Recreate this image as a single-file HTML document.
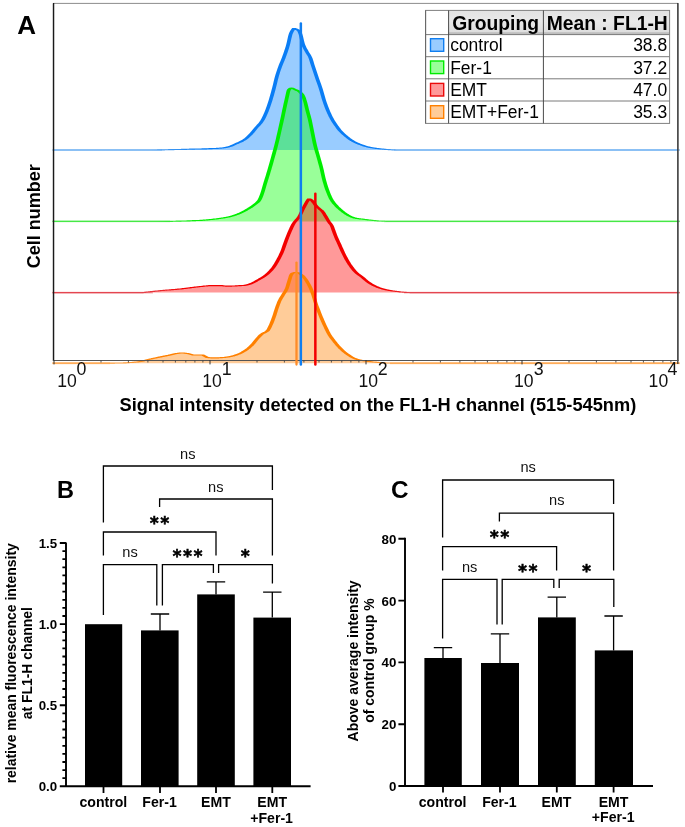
<!DOCTYPE html>
<html lang="en"><head><meta charset="utf-8"><title>Figure</title>
<style>html,body{margin:0;padding:0;background:#fff}svg{display:block}</style></head>
<body>
<svg width="685" height="827" viewBox="0 0 685 827" font-family="'Liberation Sans', sans-serif">
<rect width="685" height="827" fill="#fff"/>
<g id="panelA">
<path d="M152.0,150.0 L152.0,150.0 L152.5,150.0 L153.0,150.0 L153.5,150.0 L154.0,150.0 L154.5,150.0 L155.0,150.0 L155.5,149.9 L156.0,149.9 L156.5,149.9 L157.0,149.9 L157.5,149.9 L158.0,149.9 L158.5,149.9 L159.0,149.9 L159.5,149.9 L160.0,149.9 L160.5,149.9 L161.0,149.9 L161.5,149.8 L162.0,149.8 L162.5,149.8 L163.0,149.8 L163.5,149.8 L164.0,149.8 L164.5,149.8 L165.0,149.8 L165.5,149.8 L166.0,149.8 L166.5,149.7 L167.0,149.7 L167.5,149.7 L168.0,149.7 L168.5,149.7 L169.0,149.7 L169.5,149.7 L170.0,149.7 L170.5,149.7 L171.0,149.7 L171.5,149.6 L172.0,149.6 L172.5,149.6 L173.0,149.6 L173.5,149.6 L174.0,149.6 L174.5,149.6 L175.0,149.6 L175.5,149.6 L176.0,149.5 L176.5,149.5 L177.0,149.5 L177.5,149.5 L178.0,149.5 L178.5,149.5 L179.0,149.5 L179.5,149.5 L180.0,149.5 L180.5,149.4 L181.0,149.4 L181.5,149.4 L182.0,149.4 L182.5,149.4 L183.0,149.4 L183.5,149.4 L184.0,149.4 L184.5,149.3 L185.0,149.3 L185.5,149.3 L186.0,149.3 L186.5,149.3 L187.0,149.3 L187.5,149.3 L188.0,149.3 L188.5,149.2 L189.0,149.2 L189.5,149.2 L190.0,149.2 L190.5,149.2 L191.0,149.2 L191.5,149.2 L192.0,149.1 L192.5,149.1 L193.0,149.1 L193.5,149.1 L194.0,149.1 L194.5,149.1 L195.0,149.1 L195.5,149.1 L196.0,149.1 L196.5,149.0 L197.0,149.0 L197.5,149.0 L198.0,149.0 L198.5,149.0 L199.0,149.0 L199.5,149.0 L200.0,149.0 L200.5,149.0 L201.0,148.9 L201.5,148.9 L202.0,148.9 L202.5,148.9 L203.0,148.9 L203.5,148.9 L204.0,148.9 L204.5,148.8 L205.0,148.8 L205.5,148.8 L206.0,148.8 L206.5,148.8 L207.0,148.8 L207.5,148.8 L208.0,148.7 L208.5,148.7 L209.0,148.7 L209.5,148.7 L210.0,148.7 L210.5,148.7 L211.0,148.6 L211.5,148.6 L212.0,148.6 L212.5,148.6 L213.0,148.6 L213.5,148.5 L214.0,148.5 L214.5,148.5 L215.0,148.5 L215.5,148.4 L216.0,148.4 L216.5,148.4 L217.0,148.4 L217.5,148.3 L218.0,148.3 L218.5,148.3 L219.0,148.3 L219.5,148.2 L220.0,148.2 L220.5,148.2 L221.0,148.1 L221.5,148.1 L222.0,148.0 L222.5,148.0 L223.0,147.9 L223.5,147.8 L224.0,147.8 L224.5,147.7 L225.0,147.6 L225.5,147.5 L226.0,147.4 L226.5,147.3 L227.0,147.2 L227.5,147.1 L228.0,147.0 L228.5,146.9 L229.0,146.7 L229.5,146.6 L230.0,146.4 L230.5,146.2 L231.0,146.0 L231.5,145.8 L232.0,145.6 L232.5,145.4 L233.0,145.2 L233.5,144.9 L234.0,144.7 L234.5,144.5 L235.0,144.2 L235.5,144.0 L236.0,143.8 L236.5,143.6 L237.0,143.4 L237.5,143.2 L238.0,142.9 L238.5,142.7 L239.0,142.5 L239.5,142.3 L240.0,142.1 L240.5,141.9 L241.0,141.6 L241.5,141.4 L242.0,141.1 L242.5,140.9 L243.0,140.6 L243.5,140.3 L244.0,140.0 L244.5,139.7 L245.0,139.3 L245.5,139.0 L246.0,138.6 L246.5,138.2 L247.0,137.8 L247.5,137.3 L248.0,136.9 L248.5,136.4 L249.0,136.0 L249.5,135.5 L250.0,135.0 L250.5,134.5 L251.0,134.0 L251.5,133.4 L252.0,132.8 L252.5,132.2 L253.0,131.6 L253.5,131.0 L254.0,130.4 L254.5,129.8 L255.0,129.2 L255.5,128.6 L256.0,128.0 L256.5,127.4 L257.0,126.9 L257.5,126.3 L258.0,125.8 L258.5,125.3 L259.0,124.8 L259.5,124.2 L260.0,123.6 L260.5,123.0 L261.0,122.4 L261.5,121.7 L262.0,121.0 L262.5,120.2 L263.0,119.3 L263.5,118.4 L264.0,117.4 L264.5,116.4 L265.0,115.3 L265.5,114.1 L266.0,113.0 L266.5,111.8 L267.0,110.6 L267.5,109.2 L268.0,107.9 L268.5,106.5 L269.0,105.0 L269.5,103.5 L270.0,102.0 L270.5,100.4 L271.0,98.8 L271.5,97.1 L272.0,95.3 L272.5,93.5 L273.0,91.7 L273.5,89.9 L274.0,88.0 L274.5,86.0 L275.0,84.0 L275.5,81.9 L276.0,79.8 L276.5,77.8 L277.0,76.0 L277.5,74.3 L278.0,72.8 L278.5,71.2 L279.0,69.8 L279.5,68.4 L280.0,67.0 L280.5,65.7 L281.0,64.4 L281.5,63.2 L282.0,62.0 L282.5,60.8 L283.0,59.6 L283.5,58.3 L284.0,57.0 L284.5,55.6 L285.0,54.2 L285.5,52.8 L286.0,51.4 L286.5,49.9 L287.0,48.3 L287.5,46.7 L288.0,45.0 L288.5,43.0 L289.0,40.8 L289.5,38.5 L290.0,36.3 L290.5,34.5 L291.0,33.1 L291.5,32.1 L292.0,31.2 L292.5,30.4 L293.0,29.6 L293.5,28.9 L294.0,28.4 L294.5,28.4 L295.0,28.7 L295.5,28.9 L296.0,29.1 L296.5,29.4 L297.0,29.6 L297.5,29.8 L298.0,30.1 L298.5,30.4 L299.0,30.8 L299.5,31.6 L300.0,32.9 L300.5,34.3 L301.0,36.1 L301.5,38.2 L302.0,40.3 L302.5,42.4 L303.0,44.0 L303.5,45.3 L304.0,46.4 L304.5,47.5 L305.0,48.4 L305.5,49.4 L306.0,50.2 L306.5,51.1 L307.0,52.0 L307.5,52.9 L308.0,53.6 L308.5,54.4 L309.0,55.2 L309.5,56.0 L310.0,57.0 L310.5,58.2 L311.0,59.6 L311.5,61.2 L312.0,62.8 L312.5,64.4 L313.0,66.0 L313.5,67.5 L314.0,69.0 L314.5,70.5 L315.0,72.0 L315.5,73.5 L316.0,75.0 L316.5,76.5 L317.0,78.0 L317.5,79.4 L318.0,80.8 L318.5,82.2 L319.0,83.6 L319.5,85.0 L320.0,86.5 L320.5,88.0 L321.0,89.6 L321.5,91.3 L322.0,93.0 L322.5,94.8 L323.0,96.6 L323.5,98.3 L324.0,100.0 L324.5,101.5 L325.0,103.0 L325.5,104.4 L326.0,105.8 L326.5,107.1 L327.0,108.4 L327.5,109.6 L328.0,110.8 L328.5,112.0 L329.0,113.1 L329.5,114.2 L330.0,115.3 L330.5,116.3 L331.0,117.3 L331.5,118.2 L332.0,119.1 L332.5,120.0 L333.0,120.8 L333.5,121.6 L334.0,122.4 L334.5,123.2 L335.0,123.9 L335.5,124.6 L336.0,125.3 L336.5,126.0 L337.0,126.7 L337.5,127.4 L338.0,128.1 L338.5,128.8 L339.0,129.4 L339.5,130.0 L340.0,130.6 L340.5,131.1 L341.0,131.7 L341.5,132.2 L342.0,132.7 L342.5,133.1 L343.0,133.6 L343.5,134.1 L344.0,134.5 L344.5,134.9 L345.0,135.4 L345.5,135.8 L346.0,136.2 L346.5,136.6 L347.0,137.0 L347.5,137.4 L348.0,137.8 L348.5,138.2 L349.0,138.6 L349.5,138.9 L350.0,139.3 L350.5,139.7 L351.0,140.0 L351.5,140.3 L352.0,140.6 L352.5,140.9 L353.0,141.2 L353.5,141.4 L354.0,141.7 L354.5,142.0 L355.0,142.2 L355.5,142.5 L356.0,142.7 L356.5,142.9 L357.0,143.2 L357.5,143.4 L358.0,143.6 L358.5,143.8 L359.0,144.0 L359.5,144.2 L360.0,144.4 L360.5,144.6 L361.0,144.8 L361.5,144.9 L362.0,145.1 L362.5,145.3 L363.0,145.5 L363.5,145.6 L364.0,145.8 L364.5,146.0 L365.0,146.1 L365.5,146.3 L366.0,146.4 L366.5,146.6 L367.0,146.7 L367.5,146.8 L368.0,147.0 L368.5,147.1 L369.0,147.2 L369.5,147.3 L370.0,147.4 L370.5,147.5 L371.0,147.6 L371.5,147.7 L372.0,147.8 L372.5,147.8 L373.0,147.9 L373.5,148.0 L374.0,148.1 L374.5,148.1 L375.0,148.2 L375.5,148.3 L376.0,148.3 L376.5,148.4 L377.0,148.5 L377.5,148.5 L378.0,148.6 L378.5,148.6 L379.0,148.7 L379.5,148.7 L380.0,148.8 L380.5,148.9 L381.0,148.9 L381.5,149.0 L382.0,149.0 L382.5,149.1 L383.0,149.1 L383.5,149.2 L384.0,149.2 L384.5,149.3 L385.0,149.3 L385.5,149.4 L386.0,149.4 L386.5,149.4 L387.0,149.5 L387.5,149.5 L388.0,149.6 L388.5,149.6 L389.0,149.6 L389.5,149.7 L390.0,149.7 L390.5,149.7 L391.0,149.8 L391.5,149.8 L392.0,149.8 L392.5,149.8 L393.0,149.8 L393.5,149.9 L394.0,149.9 L394.5,149.9 L395.0,149.9 L395.5,149.9 L396.0,149.9 L396.5,149.9 L397.0,150.0 L397.5,150.0 L398.0,150.0 L398.5,150.0 L399.0,150.0 L399.5,150.0 L400.0,150.0 L400.0,150.0Z" fill="rgba(0,128,255,0.4)"/>
<linearGradient id="g_blue" gradientUnits="userSpaceOnUse" x1="52.4" x2="679.6" y1="0" y2="0"><stop offset="0.1556" stop-color="rgb(90,165,240)"/><stop offset="0.2433" stop-color="rgb(10,125,245)"/><stop offset="0.5159" stop-color="rgb(10,125,245)"/><stop offset="0.5510" stop-color="rgb(90,165,240)"/></linearGradient>
<path d="M52.4,150.00 H162.0 M394.0,150.00 H679.6" stroke="rgb(90,165,240)" stroke-width="1.9" opacity="0.4" fill="none"/>
<path d="M52.4,150.6 L152.0,150.6 L152.6,150.6 L153.1,150.6 L153.6,150.5 L154.1,150.5 L154.6,150.5 L155.1,150.5 L155.6,150.5 L156.1,150.5 L156.6,150.5 L157.1,150.5 L157.6,150.5 L158.1,150.5 L158.6,150.5 L159.1,150.5 L159.6,150.5 L160.1,150.4 L160.6,150.4 L161.1,150.4 L161.6,150.4 L162.1,150.4 L162.6,150.4 L163.1,150.4 L163.6,150.4 L164.1,150.4 L164.6,150.4 L165.1,150.3 L165.6,150.3 L166.1,150.3 L166.6,150.3 L167.1,150.3 L167.6,150.3 L168.1,150.3 L168.6,150.3 L169.1,150.3 L169.6,150.3 L170.1,150.2 L170.6,150.2 L171.1,150.2 L171.6,150.2 L172.1,150.2 L172.6,150.2 L173.1,150.2 L173.6,150.2 L174.1,150.2 L174.7,150.1 L175.2,150.1 L175.7,150.1 L176.2,150.1 L176.7,150.1 L177.2,150.1 L177.7,150.1 L178.2,150.1 L178.7,150.1 L179.2,150.0 L179.7,150.0 L180.2,150.0 L180.7,150.0 L181.2,150.0 L181.7,150.0 L182.2,150.0 L182.7,150.0 L183.2,149.9 L183.7,149.9 L184.2,149.9 L184.7,149.9 L185.2,149.9 L185.7,149.9 L186.2,149.9 L186.7,149.9 L187.2,149.8 L187.7,149.8 L188.2,149.8 L188.7,149.8 L189.2,149.8 L189.7,149.8 L190.2,149.8 L190.7,149.8 L191.2,149.7 L191.7,149.7 L192.2,149.7 L192.7,149.7 L193.2,149.7 L193.7,149.7 L194.2,149.7 L194.7,149.7 L195.2,149.6 L195.7,149.6 L196.2,149.6 L196.7,149.6 L197.2,149.6 L197.7,149.6 L198.2,149.6 L198.7,149.6 L199.2,149.6 L199.7,149.5 L200.2,149.5 L200.7,149.5 L201.2,149.5 L201.7,149.5 L202.2,149.5 L202.7,149.5 L203.2,149.5 L203.7,149.4 L204.2,149.4 L204.7,149.4 L205.2,149.4 L205.7,149.4 L206.2,149.4 L206.7,149.4 L207.2,149.3 L207.7,149.3 L208.2,149.3 L208.7,149.3 L209.2,149.3 L209.7,149.3 L210.2,149.2 L210.7,149.2 L211.2,149.2 L211.8,149.2 L212.3,149.2 L212.8,149.1 L213.3,149.1 L213.8,149.1 L214.3,149.1 L214.8,149.1 L215.3,149.0 L215.8,149.0 L216.3,149.0 L216.8,149.0 L217.3,148.9 L217.9,148.9 L218.4,148.9 L218.9,148.8 L219.4,148.8 L219.9,148.8 L220.4,148.8 L221.0,148.7 L221.6,148.7 L222.1,148.6 L222.7,148.6 L223.3,148.5 L223.8,148.4 L224.4,148.3 L224.9,148.3 L225.5,148.2 L226.0,148.1 L226.5,148.0 L227.1,147.9 L227.6,147.8 L228.1,147.7 L228.6,147.6 L229.2,147.5 L229.8,147.3 L230.4,147.1 L231.0,147.0 L231.5,146.8 L232.0,146.6 L232.6,146.4 L233.1,146.2 L233.6,145.9 L234.1,145.7 L234.6,145.5 L235.1,145.2 L235.6,145.0 L236.1,144.8 L236.6,144.6 L237.1,144.3 L237.6,144.1 L238.1,143.9 L238.6,143.7 L239.1,143.5 L239.6,143.3 L240.1,143.1 L240.6,142.8 L241.1,142.6 L241.6,142.4 L242.1,142.2 L242.7,141.9 L243.2,141.7 L243.7,141.4 L244.2,141.1 L244.7,140.8 L245.2,140.6 L245.8,140.2 L246.3,139.9 L246.8,139.6 L247.3,139.2 L247.8,138.8 L248.3,138.4 L248.8,138.0 L249.4,137.5 L249.9,137.1 L250.4,136.6 L250.9,136.1 L251.4,135.6 L251.9,135.2 L252.4,134.7 L252.9,134.1 L253.4,133.6 L253.9,133.0 L254.4,132.4 L254.9,131.8 L255.4,131.2 L255.9,130.6 L256.4,129.9 L256.9,129.3 L257.4,128.7 L257.9,128.1 L258.4,127.6 L258.9,127.0 L259.4,126.5 L259.9,126.0 L260.4,125.4 L260.9,124.9 L261.4,124.3 L261.9,123.8 L262.4,123.2 L262.9,122.5 L263.4,121.8 L263.9,121.1 L264.4,120.3 L264.9,119.4 L265.4,118.5 L265.9,117.5 L266.4,116.4 L266.9,115.3 L267.4,114.2 L267.9,113.1 L268.4,111.9 L268.9,110.6 L269.4,109.3 L269.9,107.9 L270.4,106.5 L270.9,105.1 L271.4,103.6 L271.9,102.1 L272.4,100.5 L272.9,98.8 L273.4,97.1 L273.9,95.4 L274.4,93.6 L274.9,91.8 L275.4,89.9 L275.9,88.0 L276.4,86.1 L276.9,84.0 L277.4,81.9 L277.9,79.8 L278.4,77.9 L278.9,76.0 L279.4,74.4 L279.9,72.8 L280.4,71.3 L280.9,69.8 L281.4,68.4 L281.9,67.1 L282.4,65.7 L282.9,64.5 L283.4,63.3 L283.9,62.1 L284.4,60.9 L284.9,59.6 L285.4,58.4 L285.9,57.1 L286.4,55.7 L286.9,54.3 L287.4,52.9 L287.9,51.4 L288.4,49.9 L288.9,48.4 L289.4,46.8 L289.9,45.0 L290.4,43.1 L290.9,40.8 L291.4,38.5 L291.9,36.4 L292.4,34.5 L292.9,33.2 L293.4,32.2 L293.9,31.3 L294.4,30.5 L294.9,29.7 L295.4,29.0 L295.7,28.7 L293.1,28.8 L293.3,29.0 L293.9,29.2 L294.4,29.5 L294.9,29.7 L295.3,29.9 L295.8,30.1 L296.3,30.4 L296.7,30.6 L297.1,30.9 L297.6,31.7 L298.1,32.9 L298.6,34.3 L299.1,36.1 L299.6,38.2 L300.1,40.4 L300.6,42.4 L301.1,44.1 L301.6,45.3 L302.1,46.5 L302.6,47.6 L303.1,48.5 L303.6,49.4 L304.1,50.3 L304.6,51.2 L305.1,52.1 L305.6,53.0 L306.1,53.7 L306.6,54.5 L307.1,55.3 L307.6,56.1 L308.1,57.1 L308.6,58.3 L309.1,59.7 L309.6,61.2 L310.1,62.9 L310.6,64.5 L311.1,66.1 L311.6,67.6 L312.1,69.1 L312.6,70.6 L313.1,72.1 L313.6,73.6 L314.1,75.1 L314.6,76.6 L315.1,78.1 L315.6,79.5 L316.1,80.9 L316.6,82.3 L317.1,83.7 L317.6,85.1 L318.1,86.5 L318.6,88.1 L319.1,89.7 L319.6,91.3 L320.1,93.1 L320.6,94.9 L321.1,96.6 L321.6,98.4 L322.1,100.0 L322.6,101.6 L323.1,103.0 L323.6,104.4 L324.1,105.8 L324.6,107.2 L325.1,108.5 L325.6,109.7 L326.1,110.9 L326.6,112.1 L327.1,113.2 L327.6,114.3 L328.1,115.3 L328.6,116.4 L329.1,117.3 L329.6,118.3 L330.1,119.2 L330.6,120.1 L331.1,120.9 L331.6,121.7 L332.1,122.5 L332.6,123.3 L333.1,124.0 L333.6,124.7 L334.1,125.4 L334.6,126.1 L335.1,126.8 L335.6,127.5 L336.1,128.2 L336.6,128.9 L337.1,129.5 L337.6,130.2 L338.1,130.7 L338.6,131.3 L339.1,131.8 L339.6,132.3 L340.1,132.8 L340.6,133.3 L341.1,133.8 L341.6,134.2 L342.2,134.7 L342.7,135.1 L343.2,135.6 L343.7,136.0 L344.2,136.4 L344.7,136.8 L345.2,137.2 L345.7,137.6 L346.2,138.0 L346.7,138.4 L347.2,138.8 L347.7,139.2 L348.2,139.5 L348.7,139.9 L349.2,140.2 L349.7,140.5 L350.3,140.9 L350.8,141.1 L351.3,141.4 L351.8,141.7 L352.3,142.0 L352.8,142.3 L353.3,142.5 L353.8,142.8 L354.3,143.0 L354.9,143.3 L355.4,143.5 L355.9,143.7 L356.4,143.9 L356.9,144.1 L357.4,144.4 L357.9,144.6 L358.5,144.8 L359.0,144.9 L359.5,145.1 L360.0,145.3 L360.5,145.5 L361.0,145.7 L361.5,145.8 L362.0,146.0 L362.5,146.2 L363.1,146.4 L363.6,146.5 L364.1,146.7 L364.6,146.8 L365.2,147.0 L365.7,147.1 L366.2,147.3 L366.7,147.4 L367.3,147.5 L367.8,147.7 L368.4,147.8 L368.9,147.9 L369.5,148.0 L370.0,148.1 L370.5,148.2 L371.0,148.3 L371.6,148.3 L372.1,148.4 L372.6,148.5 L373.1,148.6 L373.7,148.7 L374.2,148.7 L374.7,148.8 L375.2,148.9 L375.7,148.9 L376.3,149.0 L376.8,149.1 L377.3,149.1 L377.8,149.2 L378.3,149.2 L378.8,149.3 L379.3,149.3 L379.8,149.4 L380.3,149.4 L380.8,149.5 L381.3,149.5 L381.9,149.6 L382.4,149.7 L382.9,149.7 L383.4,149.8 L383.9,149.8 L384.4,149.9 L384.9,149.9 L385.4,149.9 L385.9,150.0 L386.5,150.0 L387.0,150.1 L387.5,150.1 L388.0,150.2 L388.6,150.2 L389.1,150.2 L389.6,150.3 L390.1,150.3 L390.7,150.3 L391.2,150.3 L391.7,150.4 L392.3,150.4 L392.8,150.4 L393.3,150.4 L393.8,150.4 L394.3,150.5 L394.8,150.5 L395.3,150.5 L395.8,150.5 L396.3,150.5 L396.8,150.5 L397.4,150.5 L397.9,150.5 L398.4,150.6 L398.9,150.6 L399.5,150.6 L400.0,150.6 L679.6,150.6 L679.6,149.4 L400.0,149.4 L399.5,149.4 L399.1,149.4 L398.6,149.4 L398.1,149.4 L397.6,149.4 L397.2,149.4 L396.7,149.4 L396.2,149.4 L395.7,149.4 L395.2,149.3 L394.7,149.3 L394.2,149.3 L393.7,149.3 L393.2,149.3 L392.7,149.3 L392.3,149.2 L391.8,149.2 L391.3,149.2 L390.9,149.2 L390.4,149.1 L389.9,149.1 L389.4,149.1 L389.0,149.1 L388.5,149.0 L388.0,149.0 L387.5,148.9 L387.1,148.9 L386.6,148.9 L386.1,148.8 L385.6,148.8 L385.1,148.7 L384.6,148.7 L384.1,148.6 L383.6,148.6 L383.1,148.5 L382.7,148.5 L382.2,148.4 L381.7,148.4 L381.2,148.3 L380.7,148.3 L380.2,148.2 L379.7,148.2 L379.2,148.1 L378.7,148.1 L378.2,148.0 L377.7,147.9 L377.3,147.9 L376.8,147.8 L376.3,147.8 L375.8,147.7 L375.3,147.6 L374.9,147.6 L374.4,147.5 L373.9,147.4 L373.4,147.3 L373.0,147.3 L372.5,147.2 L372.0,147.1 L371.5,147.0 L371.1,146.9 L370.6,146.8 L370.2,146.7 L369.7,146.6 L369.3,146.5 L368.8,146.4 L368.3,146.3 L367.8,146.2 L367.4,146.0 L366.9,145.9 L366.4,145.7 L365.9,145.6 L365.5,145.4 L365.0,145.3 L364.5,145.1 L364.0,144.9 L363.5,144.8 L363.0,144.6 L362.5,144.4 L362.0,144.2 L361.5,144.0 L361.1,143.9 L360.6,143.7 L360.1,143.5 L359.6,143.3 L359.1,143.1 L358.6,142.9 L358.1,142.6 L357.7,142.4 L357.2,142.2 L356.7,141.9 L356.2,141.7 L355.7,141.4 L355.2,141.2 L354.7,140.9 L354.2,140.6 L353.7,140.3 L353.3,140.1 L352.8,139.7 L352.3,139.4 L351.8,139.1 L351.3,138.7 L350.8,138.4 L350.3,138.0 L349.8,137.6 L349.3,137.2 L348.8,136.8 L348.3,136.4 L347.8,136.0 L347.3,135.6 L346.8,135.2 L346.3,134.8 L345.8,134.3 L345.4,133.9 L344.9,133.4 L344.4,133.0 L343.9,132.5 L343.4,132.0 L342.9,131.5 L342.4,131.0 L341.9,130.5 L341.4,129.9 L340.9,129.3 L340.4,128.6 L339.9,128.0 L339.4,127.3 L338.9,126.6 L338.4,125.9 L337.9,125.2 L337.4,124.5 L336.9,123.8 L336.4,123.0 L335.9,122.3 L335.4,121.5 L334.9,120.7 L334.4,119.9 L333.9,119.0 L333.4,118.1 L332.9,117.2 L332.4,116.2 L331.9,115.2 L331.4,114.1 L330.9,113.0 L330.4,111.9 L329.9,110.8 L329.4,109.6 L328.9,108.3 L328.4,107.0 L327.9,105.7 L327.4,104.3 L326.9,102.9 L326.4,101.4 L325.9,99.9 L325.4,98.3 L324.9,96.5 L324.4,94.8 L323.9,93.0 L323.4,91.2 L322.9,89.6 L322.4,87.9 L321.9,86.4 L321.4,85.0 L320.9,83.6 L320.4,82.2 L319.9,80.8 L319.4,79.4 L318.9,77.9 L318.4,76.5 L317.9,75.0 L317.4,73.5 L316.9,72.0 L316.4,70.5 L315.9,69.0 L315.4,67.4 L314.9,65.9 L314.4,64.4 L313.9,62.8 L313.4,61.1 L312.9,59.6 L312.4,58.1 L311.9,56.9 L311.4,55.9 L310.9,55.1 L310.4,54.3 L309.9,53.5 L309.4,52.7 L308.9,51.9 L308.4,51.0 L307.9,50.1 L307.4,49.3 L306.9,48.4 L306.4,47.4 L305.9,46.3 L305.4,45.2 L304.9,43.9 L304.4,42.3 L303.9,40.3 L303.4,38.1 L302.9,36.0 L302.4,34.2 L301.9,32.8 L301.4,31.5 L300.9,30.7 L300.3,30.2 L299.7,29.8 L299.2,29.5 L298.7,29.3 L298.1,29.1 L297.6,28.8 L297.1,28.6 L296.7,28.4 L295.9,28.0 L292.3,28.1 L291.6,28.8 L291.1,29.5 L290.6,30.3 L290.1,31.1 L289.6,32.0 L289.1,33.0 L288.6,34.4 L288.1,36.3 L287.6,38.5 L287.1,40.8 L286.6,43.0 L286.1,45.0 L285.6,46.7 L285.1,48.3 L284.6,49.8 L284.1,51.3 L283.6,52.8 L283.1,54.2 L282.6,55.6 L282.1,56.9 L281.6,58.3 L281.1,59.5 L280.6,60.7 L280.1,61.9 L279.6,63.1 L279.1,64.3 L278.6,65.6 L278.1,66.9 L277.6,68.3 L277.1,69.7 L276.6,71.2 L276.1,72.7 L275.6,74.3 L275.1,76.0 L274.6,77.8 L274.1,79.8 L273.6,81.8 L273.1,83.9 L272.6,86.0 L272.1,88.0 L271.6,89.8 L271.1,91.7 L270.6,93.5 L270.1,95.3 L269.6,97.0 L269.1,98.7 L268.6,100.4 L268.1,101.9 L267.6,103.5 L267.1,105.0 L266.6,106.4 L266.1,107.8 L265.6,109.2 L265.1,110.5 L264.6,111.7 L264.1,112.9 L263.6,114.1 L263.1,115.2 L262.6,116.3 L262.1,117.3 L261.6,118.3 L261.1,119.2 L260.6,120.1 L260.1,120.9 L259.6,121.6 L259.1,122.3 L258.6,122.9 L258.1,123.5 L257.6,124.1 L257.1,124.6 L256.6,125.1 L256.1,125.7 L255.6,126.2 L255.1,126.7 L254.6,127.3 L254.1,127.9 L253.6,128.5 L253.1,129.1 L252.6,129.7 L252.1,130.3 L251.6,130.9 L251.1,131.5 L250.6,132.1 L250.1,132.7 L249.6,133.3 L249.1,133.8 L248.6,134.3 L248.1,134.8 L247.6,135.3 L247.1,135.8 L246.6,136.3 L246.1,136.7 L245.6,137.2 L245.2,137.6 L244.7,138.0 L244.2,138.4 L243.7,138.8 L243.2,139.1 L242.7,139.5 L242.2,139.8 L241.8,140.0 L241.3,140.3 L240.8,140.6 L240.3,140.8 L239.8,141.1 L239.3,141.3 L238.9,141.5 L238.4,141.8 L237.9,142.0 L237.4,142.2 L236.9,142.4 L236.4,142.6 L235.9,142.8 L235.4,143.0 L234.9,143.3 L234.4,143.5 L233.9,143.7 L233.4,143.9 L232.9,144.2 L232.4,144.4 L231.9,144.6 L231.4,144.9 L230.9,145.1 L230.4,145.3 L229.9,145.5 L229.4,145.7 L229.0,145.9 L228.5,146.1 L228.0,146.2 L227.6,146.3 L227.2,146.5 L226.8,146.5 L226.4,146.6 L225.9,146.7 L225.4,146.8 L224.9,146.9 L224.5,147.0 L224.0,147.1 L223.5,147.2 L223.1,147.3 L222.6,147.3 L222.2,147.4 L221.7,147.4 L221.3,147.5 L220.9,147.5 L220.4,147.6 L220.0,147.6 L219.6,147.6 L219.1,147.7 L218.6,147.7 L218.1,147.7 L217.6,147.8 L217.1,147.8 L216.7,147.8 L216.2,147.8 L215.7,147.9 L215.2,147.9 L214.7,147.9 L214.2,147.9 L213.7,148.0 L213.2,148.0 L212.7,148.0 L212.2,148.0 L211.7,148.0 L211.2,148.1 L210.8,148.1 L210.3,148.1 L209.8,148.1 L209.3,148.1 L208.8,148.1 L208.3,148.2 L207.8,148.2 L207.3,148.2 L206.8,148.2 L206.3,148.2 L205.8,148.2 L205.3,148.3 L204.8,148.3 L204.3,148.3 L203.8,148.3 L203.3,148.3 L202.8,148.3 L202.3,148.3 L201.8,148.3 L201.3,148.4 L200.8,148.4 L200.3,148.4 L199.8,148.4 L199.3,148.4 L198.8,148.4 L198.3,148.4 L197.8,148.4 L197.3,148.5 L196.8,148.5 L196.3,148.5 L195.8,148.5 L195.3,148.5 L194.8,148.5 L194.3,148.5 L193.8,148.5 L193.3,148.5 L192.8,148.6 L192.3,148.6 L191.8,148.6 L191.3,148.6 L190.8,148.6 L190.3,148.6 L189.8,148.6 L189.3,148.6 L188.8,148.7 L188.3,148.7 L187.8,148.7 L187.3,148.7 L186.8,148.7 L186.3,148.7 L185.8,148.7 L185.3,148.7 L184.8,148.8 L184.3,148.8 L183.8,148.8 L183.3,148.8 L182.8,148.8 L182.3,148.8 L181.8,148.8 L181.3,148.8 L180.8,148.9 L180.3,148.9 L179.8,148.9 L179.3,148.9 L178.8,148.9 L178.3,148.9 L177.8,148.9 L177.3,148.9 L176.8,149.0 L176.3,149.0 L175.8,149.0 L175.3,149.0 L174.8,149.0 L174.3,149.0 L173.9,149.0 L173.4,149.0 L172.9,149.0 L172.4,149.1 L171.9,149.1 L171.4,149.1 L170.9,149.1 L170.4,149.1 L169.9,149.1 L169.4,149.1 L168.9,149.1 L168.4,149.1 L167.9,149.2 L167.4,149.2 L166.9,149.2 L166.4,149.2 L165.9,149.2 L165.4,149.2 L164.9,149.2 L164.4,149.2 L163.9,149.2 L163.4,149.2 L162.9,149.2 L162.4,149.3 L161.9,149.3 L161.4,149.3 L160.9,149.3 L160.4,149.3 L159.9,149.3 L159.4,149.3 L158.9,149.3 L158.4,149.3 L157.9,149.3 L157.4,149.3 L156.9,149.4 L156.4,149.4 L155.9,149.4 L155.4,149.4 L154.9,149.4 L154.4,149.4 L153.9,149.4 L153.4,149.4 L152.9,149.4 L152.4,149.4 L152.0,149.4 L52.4,149.4Z" fill="url(#g_blue)"/>
<path d="M160.0,221.4 L160.0,221.4 L160.5,221.4 L161.0,221.4 L161.5,221.4 L162.0,221.4 L162.5,221.4 L163.0,221.4 L163.5,221.4 L164.0,221.4 L164.5,221.4 L165.0,221.4 L165.5,221.4 L166.0,221.4 L166.5,221.4 L167.0,221.4 L167.5,221.4 L168.0,221.4 L168.5,221.3 L169.0,221.3 L169.5,221.3 L170.0,221.3 L170.5,221.3 L171.0,221.3 L171.5,221.3 L172.0,221.3 L172.5,221.3 L173.0,221.3 L173.5,221.3 L174.0,221.3 L174.5,221.2 L175.0,221.2 L175.5,221.2 L176.0,221.2 L176.5,221.2 L177.0,221.2 L177.5,221.2 L178.0,221.2 L178.5,221.2 L179.0,221.1 L179.5,221.1 L180.0,221.1 L180.5,221.1 L181.0,221.1 L181.5,221.1 L182.0,221.1 L182.5,221.0 L183.0,221.0 L183.5,221.0 L184.0,221.0 L184.5,221.0 L185.0,221.0 L185.5,220.9 L186.0,220.9 L186.5,220.9 L187.0,220.9 L187.5,220.9 L188.0,220.9 L188.5,220.8 L189.0,220.8 L189.5,220.8 L190.0,220.8 L190.5,220.8 L191.0,220.8 L191.5,220.7 L192.0,220.7 L192.5,220.7 L193.0,220.7 L193.5,220.7 L194.0,220.6 L194.5,220.6 L195.0,220.6 L195.5,220.6 L196.0,220.6 L196.5,220.5 L197.0,220.5 L197.5,220.5 L198.0,220.5 L198.5,220.5 L199.0,220.4 L199.5,220.4 L200.0,220.4 L200.5,220.4 L201.0,220.4 L201.5,220.3 L202.0,220.3 L202.5,220.3 L203.0,220.2 L203.5,220.2 L204.0,220.1 L204.5,220.1 L205.0,220.1 L205.5,220.0 L206.0,220.0 L206.5,219.9 L207.0,219.9 L207.5,219.8 L208.0,219.8 L208.5,219.7 L209.0,219.7 L209.5,219.6 L210.0,219.6 L210.5,219.6 L211.0,219.5 L211.5,219.5 L212.0,219.4 L212.5,219.3 L213.0,219.3 L213.5,219.2 L214.0,219.2 L214.5,219.1 L215.0,219.1 L215.5,219.0 L216.0,218.9 L216.5,218.9 L217.0,218.8 L217.5,218.7 L218.0,218.7 L218.5,218.6 L219.0,218.5 L219.5,218.5 L220.0,218.4 L220.5,218.3 L221.0,218.3 L221.5,218.2 L222.0,218.1 L222.5,218.0 L223.0,217.9 L223.5,217.9 L224.0,217.8 L224.5,217.7 L225.0,217.6 L225.5,217.5 L226.0,217.4 L226.5,217.3 L227.0,217.2 L227.5,217.1 L228.0,217.0 L228.5,216.9 L229.0,216.8 L229.5,216.7 L230.0,216.6 L230.5,216.5 L231.0,216.4 L231.5,216.2 L232.0,216.1 L232.5,215.9 L233.0,215.8 L233.5,215.6 L234.0,215.5 L234.5,215.3 L235.0,215.1 L235.5,214.9 L236.0,214.8 L236.5,214.6 L237.0,214.4 L237.5,214.2 L238.0,214.0 L238.5,213.8 L239.0,213.6 L239.5,213.4 L240.0,213.2 L240.5,213.0 L241.0,212.8 L241.5,212.5 L242.0,212.3 L242.5,212.1 L243.0,211.8 L243.5,211.5 L244.0,211.3 L244.5,211.0 L245.0,210.7 L245.5,210.4 L246.0,210.2 L246.5,209.9 L247.0,209.6 L247.5,209.3 L248.0,209.0 L248.5,208.7 L249.0,208.4 L249.5,208.1 L250.0,207.8 L250.5,207.5 L251.0,207.1 L251.5,206.8 L252.0,206.5 L252.5,206.1 L253.0,205.7 L253.5,205.4 L254.0,205.0 L254.5,204.6 L255.0,204.3 L255.5,203.9 L256.0,203.5 L256.5,203.1 L257.0,202.7 L257.5,202.3 L258.0,201.8 L258.5,201.2 L259.0,200.6 L259.5,199.8 L260.0,198.9 L260.5,197.8 L261.0,196.6 L261.5,195.3 L262.0,194.0 L262.5,192.6 L263.0,191.0 L263.5,189.2 L264.0,187.5 L264.5,185.7 L265.0,184.0 L265.5,182.4 L266.0,180.7 L266.5,179.1 L267.0,177.5 L267.5,175.9 L268.0,174.3 L268.5,172.7 L269.0,171.0 L269.5,169.3 L270.0,167.6 L270.5,165.9 L271.0,164.1 L271.5,162.4 L272.0,160.6 L272.5,158.8 L273.0,157.0 L273.5,155.2 L274.0,153.4 L274.5,151.6 L275.0,149.7 L275.5,147.8 L276.0,145.9 L276.5,144.0 L277.0,142.0 L277.5,139.9 L278.0,137.8 L278.5,135.6 L279.0,133.4 L279.5,131.2 L280.0,129.0 L280.5,126.8 L281.0,124.6 L281.5,122.3 L282.0,120.1 L282.5,117.8 L283.0,115.5 L283.5,113.1 L284.0,110.7 L284.5,108.3 L285.0,106.0 L285.5,103.7 L286.0,101.4 L286.5,99.2 L287.0,97.1 L287.5,94.8 L288.0,92.4 L288.5,90.6 L289.0,89.7 L289.5,89.1 L290.0,88.7 L290.5,88.4 L291.0,88.1 L291.5,88.0 L292.0,88.1 L292.5,88.4 L293.0,88.6 L293.5,88.8 L294.0,89.0 L294.5,89.2 L295.0,89.5 L295.5,89.7 L296.0,89.9 L296.5,90.1 L297.0,90.3 L297.5,90.6 L298.0,90.8 L298.5,91.1 L299.0,91.4 L299.5,91.7 L300.0,92.1 L300.5,92.5 L301.0,93.0 L301.5,93.6 L302.0,94.2 L302.5,94.9 L303.0,95.7 L303.5,96.8 L304.0,98.2 L304.5,99.7 L305.0,101.3 L305.5,103.1 L306.0,105.1 L306.5,107.1 L307.0,109.2 L307.5,111.1 L308.0,113.0 L308.5,114.8 L309.0,116.6 L309.5,118.6 L310.0,120.7 L310.5,123.0 L311.0,125.5 L311.5,128.0 L312.0,130.5 L312.5,133.0 L313.0,135.5 L313.5,138.0 L314.0,140.5 L314.5,142.8 L315.0,145.0 L315.5,147.0 L316.0,148.8 L316.5,150.6 L317.0,152.3 L317.5,154.0 L318.0,155.7 L318.5,157.5 L319.0,159.3 L319.5,161.1 L320.0,162.9 L320.5,164.7 L321.0,166.5 L321.5,168.5 L322.0,170.6 L322.5,172.9 L323.0,175.3 L323.5,177.5 L324.0,179.5 L324.5,181.3 L325.0,183.1 L325.5,184.7 L326.0,186.3 L326.5,187.9 L327.0,189.3 L327.5,190.7 L328.0,192.0 L328.5,193.2 L329.0,194.5 L329.5,195.6 L330.0,196.7 L330.5,197.8 L331.0,198.8 L331.5,199.7 L332.0,200.5 L332.5,201.3 L333.0,202.0 L333.5,202.6 L334.0,203.2 L334.5,203.8 L335.0,204.4 L335.5,204.9 L336.0,205.5 L336.5,206.0 L337.0,206.5 L337.5,207.0 L338.0,207.5 L338.5,208.0 L339.0,208.5 L339.5,208.9 L340.0,209.4 L340.5,209.8 L341.0,210.2 L341.5,210.6 L342.0,211.0 L342.5,211.4 L343.0,211.8 L343.5,212.2 L344.0,212.6 L344.5,212.9 L345.0,213.3 L345.5,213.6 L346.0,213.9 L346.5,214.3 L347.0,214.6 L347.5,214.9 L348.0,215.2 L348.5,215.5 L349.0,215.8 L349.5,216.0 L350.0,216.3 L350.5,216.5 L351.0,216.7 L351.5,216.9 L352.0,217.1 L352.5,217.3 L353.0,217.5 L353.5,217.6 L354.0,217.8 L354.5,217.9 L355.0,218.1 L355.5,218.2 L356.0,218.3 L356.5,218.4 L357.0,218.5 L357.5,218.6 L358.0,218.6 L358.5,218.7 L359.0,218.7 L359.5,218.8 L360.0,218.8 L360.5,218.9 L361.0,219.0 L361.5,219.0 L362.0,219.1 L362.5,219.1 L363.0,219.2 L363.5,219.3 L364.0,219.3 L364.5,219.4 L365.0,219.5 L365.5,219.5 L366.0,219.6 L366.5,219.7 L367.0,219.7 L367.5,219.8 L368.0,219.9 L368.5,219.9 L369.0,220.0 L369.5,220.0 L370.0,220.1 L370.5,220.2 L371.0,220.2 L371.5,220.3 L372.0,220.3 L372.5,220.4 L373.0,220.4 L373.5,220.5 L374.0,220.5 L374.5,220.6 L375.0,220.6 L375.5,220.7 L376.0,220.7 L376.5,220.7 L377.0,220.8 L377.5,220.8 L378.0,220.9 L378.5,220.9 L379.0,220.9 L379.5,221.0 L380.0,221.0 L380.5,221.0 L381.0,221.1 L381.5,221.1 L382.0,221.1 L382.5,221.1 L383.0,221.2 L383.5,221.2 L384.0,221.2 L384.5,221.2 L385.0,221.3 L385.5,221.3 L386.0,221.3 L386.5,221.3 L387.0,221.3 L387.5,221.3 L388.0,221.4 L388.5,221.4 L389.0,221.4 L389.5,221.4 L390.0,221.4 L390.0,221.4Z" fill="rgba(0,255,0,0.4)"/>
<linearGradient id="g_green" gradientUnits="userSpaceOnUse" x1="52.4" x2="679.6" y1="0" y2="0"><stop offset="0.1668" stop-color="rgb(70,232,70)"/><stop offset="0.2433" stop-color="rgb(0,238,0)"/><stop offset="0.4872" stop-color="rgb(0,238,0)"/><stop offset="0.5287" stop-color="rgb(70,232,70)"/></linearGradient>
<path d="M52.4,221.40 H170.0 M384.0,221.40 H679.6" stroke="rgb(70,232,70)" stroke-width="1.9" opacity="0.4" fill="none"/>
<path d="M52.4,222.0 L160.0,222.0 L160.5,222.0 L161.0,222.0 L161.5,222.0 L162.0,222.0 L162.5,222.0 L163.0,222.0 L163.5,222.0 L164.0,222.0 L164.5,222.0 L165.1,222.0 L165.6,221.9 L166.1,221.9 L166.6,221.9 L167.1,221.9 L167.6,221.9 L168.1,221.9 L168.6,221.9 L169.1,221.9 L169.6,221.9 L170.1,221.9 L170.6,221.9 L171.1,221.9 L171.6,221.9 L172.1,221.9 L172.6,221.9 L173.1,221.8 L173.6,221.8 L174.1,221.8 L174.6,221.8 L175.1,221.8 L175.6,221.8 L176.1,221.8 L176.7,221.8 L177.2,221.8 L177.7,221.7 L178.2,221.7 L178.7,221.7 L179.2,221.7 L179.7,221.7 L180.2,221.7 L180.7,221.7 L181.2,221.7 L181.7,221.6 L182.2,221.6 L182.7,221.6 L183.2,221.6 L183.7,221.6 L184.2,221.6 L184.7,221.5 L185.2,221.5 L185.7,221.5 L186.2,221.5 L186.7,221.5 L187.2,221.5 L187.7,221.4 L188.2,221.4 L188.7,221.4 L189.2,221.4 L189.7,221.4 L190.2,221.4 L190.7,221.3 L191.2,221.3 L191.7,221.3 L192.2,221.3 L192.8,221.3 L193.3,221.2 L193.8,221.2 L194.3,221.2 L194.8,221.2 L195.3,221.2 L195.8,221.2 L196.3,221.1 L196.8,221.1 L197.3,221.1 L197.8,221.1 L198.3,221.0 L198.8,221.0 L199.3,221.0 L199.8,221.0 L200.3,221.0 L200.8,220.9 L201.4,220.9 L201.9,220.9 L202.4,220.9 L202.9,220.8 L203.5,220.8 L204.0,220.7 L204.5,220.7 L205.0,220.7 L205.5,220.6 L206.1,220.6 L206.6,220.5 L207.1,220.5 L207.6,220.4 L208.1,220.4 L208.6,220.3 L209.1,220.3 L209.6,220.2 L210.1,220.2 L210.6,220.1 L211.1,220.1 L211.6,220.0 L212.1,220.0 L212.7,219.9 L213.2,219.9 L213.7,219.8 L214.2,219.8 L214.7,219.7 L215.2,219.6 L215.7,219.6 L216.3,219.5 L216.8,219.5 L217.3,219.4 L217.8,219.3 L218.3,219.3 L218.8,219.2 L219.3,219.1 L219.8,219.1 L220.4,219.0 L220.9,218.9 L221.4,218.8 L221.9,218.8 L222.4,218.7 L222.9,218.6 L223.4,218.5 L223.9,218.4 L224.4,218.4 L225.0,218.3 L225.5,218.2 L226.0,218.1 L226.5,218.0 L227.0,217.9 L227.6,217.8 L228.1,217.7 L228.6,217.6 L229.1,217.5 L229.7,217.4 L230.2,217.3 L230.7,217.2 L231.2,217.0 L231.8,216.9 L232.3,216.8 L232.8,216.6 L233.4,216.5 L233.9,216.3 L234.4,216.2 L234.9,216.0 L235.5,215.8 L236.0,215.7 L236.5,215.5 L237.0,215.3 L237.5,215.1 L238.0,214.9 L238.5,214.7 L239.1,214.5 L239.6,214.4 L240.1,214.1 L240.6,213.9 L241.1,213.7 L241.6,213.5 L242.1,213.3 L242.6,213.1 L243.2,212.8 L243.7,212.6 L244.2,212.3 L244.7,212.1 L245.2,211.8 L245.7,211.5 L246.2,211.3 L246.7,211.0 L247.2,210.7 L247.7,210.4 L248.2,210.1 L248.7,209.8 L249.2,209.5 L249.7,209.3 L250.3,209.0 L250.8,208.6 L251.3,208.3 L251.8,208.0 L252.3,207.7 L252.8,207.4 L253.3,207.0 L253.8,206.7 L254.3,206.3 L254.8,206.0 L255.3,205.6 L255.8,205.2 L256.3,204.8 L256.8,204.5 L257.3,204.1 L257.8,203.7 L258.3,203.3 L258.8,202.9 L259.4,202.4 L259.9,201.9 L260.4,201.4 L260.9,200.7 L261.4,199.9 L261.9,199.0 L262.4,197.9 L262.9,196.7 L263.4,195.4 L263.9,194.1 L264.4,192.6 L264.9,191.0 L265.4,189.3 L265.9,187.5 L266.4,185.7 L266.9,184.0 L267.4,182.4 L267.9,180.8 L268.4,179.2 L268.9,177.6 L269.4,176.0 L269.9,174.4 L270.4,172.7 L270.9,171.0 L271.4,169.4 L271.9,167.6 L272.4,165.9 L272.9,164.2 L273.4,162.4 L273.9,160.6 L274.4,158.8 L274.9,157.0 L275.4,155.2 L275.9,153.4 L276.4,151.6 L276.9,149.8 L277.4,147.9 L277.9,146.0 L278.4,144.0 L278.9,142.0 L279.4,140.0 L279.9,137.9 L280.4,135.7 L280.9,133.5 L281.4,131.3 L281.9,129.0 L282.4,126.8 L282.9,124.6 L283.4,122.4 L283.9,120.1 L284.4,117.9 L284.9,115.5 L285.4,113.1 L285.9,110.7 L286.4,108.3 L286.9,106.0 L287.4,103.7 L287.9,101.5 L288.4,99.3 L288.9,97.1 L289.4,94.9 L289.9,92.5 L290.4,90.7 L290.9,89.8 L291.4,89.3 L291.8,88.9 L292.2,88.6 L292.5,88.5 L291.5,88.6 L290.5,88.5 L290.8,88.6 L291.4,88.9 L291.9,89.1 L292.4,89.3 L292.9,89.6 L293.4,89.8 L293.9,90.0 L294.4,90.2 L294.9,90.5 L295.4,90.7 L295.9,90.9 L296.3,91.1 L296.8,91.3 L297.2,91.6 L297.7,91.9 L298.2,92.3 L298.6,92.7 L299.1,93.2 L299.6,93.7 L300.1,94.3 L300.6,95.0 L301.1,95.8 L301.6,96.9 L302.1,98.3 L302.6,99.8 L303.1,101.3 L303.6,103.1 L304.1,105.1 L304.6,107.2 L305.1,109.3 L305.6,111.2 L306.1,113.0 L306.6,114.8 L307.1,116.7 L307.6,118.6 L308.1,120.7 L308.6,123.0 L309.1,125.5 L309.6,128.0 L310.1,130.6 L310.6,133.0 L311.1,135.5 L311.6,138.0 L312.1,140.5 L312.6,142.9 L313.1,145.0 L313.6,147.0 L314.1,148.9 L314.6,150.7 L315.1,152.4 L315.6,154.1 L316.1,155.8 L316.6,157.5 L317.1,159.3 L317.6,161.1 L318.1,162.9 L318.6,164.7 L319.1,166.6 L319.6,168.5 L320.1,170.7 L320.6,173.0 L321.1,175.3 L321.6,177.5 L322.1,179.5 L322.6,181.4 L323.1,183.1 L323.6,184.8 L324.1,186.4 L324.6,187.9 L325.1,189.4 L325.6,190.8 L326.1,192.1 L326.6,193.3 L327.1,194.5 L327.6,195.7 L328.1,196.8 L328.6,197.9 L329.1,198.9 L329.6,199.8 L330.1,200.6 L330.6,201.4 L331.1,202.1 L331.6,202.7 L332.1,203.4 L332.6,203.9 L333.1,204.5 L333.6,205.1 L334.1,205.6 L334.6,206.2 L335.1,206.7 L335.6,207.2 L336.1,207.7 L336.6,208.2 L337.1,208.6 L337.6,209.1 L338.1,209.6 L338.7,210.0 L339.2,210.4 L339.7,210.8 L340.2,211.2 L340.7,211.6 L341.2,212.0 L341.7,212.4 L342.2,212.8 L342.7,213.1 L343.2,213.5 L343.7,213.8 L344.2,214.2 L344.7,214.5 L345.2,214.8 L345.7,215.1 L346.2,215.4 L346.8,215.8 L347.3,216.0 L347.8,216.3 L348.3,216.6 L348.9,216.8 L349.4,217.1 L349.9,217.3 L350.5,217.5 L351.0,217.7 L351.5,217.8 L352.1,218.0 L352.6,218.2 L353.1,218.4 L353.7,218.5 L354.3,218.6 L354.9,218.8 L355.5,218.9 L356.1,219.0 L356.7,219.1 L357.2,219.1 L357.8,219.2 L358.3,219.3 L358.8,219.3 L359.3,219.4 L359.8,219.4 L360.3,219.5 L360.8,219.5 L361.3,219.6 L361.7,219.6 L362.2,219.7 L362.7,219.8 L363.2,219.8 L363.7,219.9 L364.2,220.0 L364.7,220.0 L365.2,220.1 L365.7,220.2 L366.2,220.3 L366.7,220.3 L367.2,220.4 L367.7,220.5 L368.3,220.5 L368.8,220.6 L369.3,220.6 L369.8,220.7 L370.3,220.7 L370.8,220.8 L371.3,220.8 L371.8,220.9 L372.4,221.0 L372.9,221.0 L373.4,221.1 L373.9,221.1 L374.4,221.2 L374.9,221.2 L375.4,221.3 L376.0,221.3 L376.5,221.3 L377.0,221.4 L377.5,221.4 L378.0,221.5 L378.6,221.5 L379.1,221.5 L379.6,221.6 L380.1,221.6 L380.6,221.6 L381.2,221.6 L381.7,221.7 L382.2,221.7 L382.7,221.7 L383.2,221.7 L383.7,221.8 L384.2,221.8 L384.7,221.8 L385.2,221.8 L385.7,221.9 L386.3,221.9 L386.8,221.9 L387.3,221.9 L387.8,221.9 L388.3,221.9 L388.9,222.0 L389.4,222.0 L390.0,222.0 L679.6,222.0 L679.6,220.8 L390.0,220.8 L389.6,220.8 L389.1,220.8 L388.7,220.8 L388.2,220.8 L387.7,220.8 L387.2,220.8 L386.7,220.7 L386.3,220.7 L385.8,220.7 L385.3,220.7 L384.8,220.7 L384.3,220.6 L383.8,220.6 L383.3,220.6 L382.8,220.6 L382.3,220.5 L381.8,220.5 L381.4,220.5 L380.9,220.5 L380.4,220.4 L379.9,220.4 L379.4,220.4 L379.0,220.4 L378.5,220.3 L378.0,220.3 L377.5,220.2 L377.0,220.2 L376.6,220.2 L376.1,220.1 L375.6,220.1 L375.1,220.0 L374.6,220.0 L374.1,219.9 L373.6,219.9 L373.2,219.8 L372.7,219.8 L372.2,219.7 L371.7,219.7 L371.2,219.6 L370.7,219.6 L370.2,219.5 L369.7,219.5 L369.3,219.4 L368.8,219.3 L368.3,219.3 L367.8,219.2 L367.3,219.1 L366.8,219.1 L366.3,219.0 L365.8,218.9 L365.3,218.9 L364.8,218.8 L364.3,218.7 L363.8,218.7 L363.3,218.6 L362.7,218.5 L362.2,218.5 L361.7,218.4 L361.2,218.4 L360.7,218.3 L360.2,218.3 L359.7,218.2 L359.2,218.2 L358.8,218.1 L358.3,218.0 L357.9,218.0 L357.5,217.9 L357.1,217.8 L356.7,217.7 L356.3,217.6 L355.9,217.5 L355.4,217.4 L354.9,217.3 L354.5,217.1 L354.0,216.9 L353.5,216.8 L353.1,216.6 L352.6,216.4 L352.1,216.2 L351.7,216.0 L351.2,215.8 L350.7,215.5 L350.2,215.2 L349.8,215.0 L349.3,214.7 L348.8,214.3 L348.3,214.0 L347.8,213.7 L347.3,213.4 L346.8,213.0 L346.3,212.7 L345.8,212.4 L345.3,212.0 L344.8,211.6 L344.3,211.2 L343.8,210.8 L343.3,210.4 L342.8,210.0 L342.3,209.6 L341.9,209.2 L341.4,208.8 L340.9,208.3 L340.4,207.8 L339.9,207.4 L339.4,206.9 L338.9,206.4 L338.4,205.8 L337.9,205.3 L337.4,204.8 L336.9,204.2 L336.4,203.7 L335.9,203.1 L335.4,202.5 L334.9,201.8 L334.4,201.1 L333.9,200.4 L333.4,199.6 L332.9,198.7 L332.4,197.7 L331.9,196.7 L331.4,195.6 L330.9,194.4 L330.4,193.2 L329.9,191.9 L329.4,190.6 L328.9,189.3 L328.4,187.8 L327.9,186.3 L327.4,184.7 L326.9,183.0 L326.4,181.3 L325.9,179.5 L325.4,177.5 L324.9,175.2 L324.4,172.9 L323.9,170.6 L323.4,168.5 L322.9,166.5 L322.4,164.6 L321.9,162.8 L321.4,161.0 L320.9,159.2 L320.4,157.5 L319.9,155.7 L319.4,154.0 L318.9,152.3 L318.4,150.6 L317.9,148.8 L317.4,146.9 L316.9,145.0 L316.4,142.8 L315.9,140.4 L315.4,138.0 L314.9,135.4 L314.4,132.9 L313.9,130.5 L313.4,128.0 L312.9,125.4 L312.4,123.0 L311.9,120.6 L311.4,118.5 L310.9,116.6 L310.4,114.7 L309.9,112.9 L309.4,111.1 L308.9,109.2 L308.4,107.1 L307.9,105.0 L307.4,103.0 L306.9,101.3 L306.4,99.7 L305.9,98.1 L305.4,96.8 L304.9,95.7 L304.4,94.8 L303.9,94.1 L303.4,93.5 L302.9,92.9 L302.4,92.4 L301.8,91.9 L301.3,91.5 L300.8,91.1 L300.2,90.8 L299.7,90.5 L299.1,90.3 L298.6,90.0 L298.1,89.8 L297.6,89.6 L297.1,89.4 L296.6,89.2 L296.1,88.9 L295.6,88.7 L295.1,88.5 L294.6,88.3 L294.2,88.1 L293.5,87.7 L291.5,87.4 L289.5,87.8 L288.8,88.1 L288.2,88.5 L287.6,89.0 L287.1,89.6 L286.6,90.6 L286.1,92.4 L285.6,94.8 L285.1,97.0 L284.6,99.2 L284.1,101.4 L283.6,103.6 L283.1,105.9 L282.6,108.2 L282.1,110.6 L281.6,113.1 L281.1,115.5 L280.6,117.8 L280.1,120.1 L279.6,122.3 L279.1,124.5 L278.6,126.8 L278.1,129.0 L277.6,131.2 L277.1,133.4 L276.6,135.6 L276.1,137.8 L275.6,139.9 L275.1,142.0 L274.6,143.9 L274.1,145.9 L273.6,147.8 L273.1,149.7 L272.6,151.5 L272.1,153.3 L271.6,155.1 L271.1,157.0 L270.6,158.8 L270.1,160.5 L269.6,162.3 L269.1,164.1 L268.6,165.8 L268.1,167.5 L267.6,169.3 L267.1,171.0 L266.6,172.6 L266.1,174.3 L265.6,175.9 L265.1,177.5 L264.6,179.1 L264.1,180.7 L263.6,182.3 L263.1,184.0 L262.6,185.7 L262.1,187.4 L261.6,189.2 L261.1,190.9 L260.6,192.5 L260.1,193.9 L259.6,195.3 L259.1,196.5 L258.6,197.7 L258.1,198.8 L257.6,199.7 L257.1,200.5 L256.6,201.1 L256.1,201.6 L255.6,202.1 L255.2,202.5 L254.7,202.9 L254.2,203.3 L253.7,203.7 L253.2,204.1 L252.7,204.4 L252.2,204.8 L251.7,205.2 L251.2,205.5 L250.7,205.9 L250.2,206.2 L249.7,206.6 L249.2,206.9 L248.7,207.2 L248.2,207.5 L247.7,207.8 L247.2,208.2 L246.7,208.5 L246.3,208.7 L245.8,209.0 L245.3,209.3 L244.8,209.6 L244.3,209.9 L243.8,210.2 L243.3,210.5 L242.8,210.7 L242.3,211.0 L241.8,211.3 L241.3,211.5 L240.8,211.8 L240.3,212.0 L239.8,212.2 L239.4,212.5 L238.9,212.7 L238.4,212.9 L237.9,213.1 L237.4,213.3 L236.9,213.5 L236.4,213.7 L235.9,213.9 L235.5,214.0 L235.0,214.2 L234.5,214.4 L234.0,214.6 L233.5,214.8 L233.0,214.9 L232.5,215.1 L232.1,215.2 L231.6,215.4 L231.1,215.5 L230.6,215.7 L230.2,215.8 L229.7,215.9 L229.2,216.0 L228.8,216.2 L228.3,216.3 L227.8,216.4 L227.3,216.5 L226.9,216.6 L226.4,216.7 L225.9,216.8 L225.4,216.9 L225.0,217.0 L224.5,217.0 L224.0,217.1 L223.5,217.2 L223.0,217.3 L222.6,217.4 L222.1,217.4 L221.6,217.5 L221.1,217.6 L220.6,217.7 L220.1,217.7 L219.6,217.8 L219.1,217.9 L218.6,218.0 L218.2,218.0 L217.7,218.1 L217.2,218.2 L216.7,218.2 L216.2,218.3 L215.7,218.4 L215.2,218.4 L214.7,218.5 L214.3,218.5 L213.8,218.6 L213.3,218.6 L212.8,218.7 L212.3,218.8 L211.8,218.8 L211.3,218.9 L210.9,218.9 L210.4,219.0 L209.9,219.0 L209.4,219.1 L208.9,219.1 L208.4,219.2 L207.9,219.2 L207.4,219.3 L206.9,219.3 L206.4,219.3 L205.9,219.4 L205.4,219.4 L204.9,219.5 L204.5,219.5 L204.0,219.6 L203.5,219.6 L203.0,219.6 L202.5,219.7 L202.1,219.7 L201.6,219.7 L201.1,219.8 L200.6,219.8 L200.2,219.8 L199.7,219.8 L199.2,219.9 L198.7,219.9 L198.2,219.9 L197.7,219.9 L197.2,219.9 L196.7,220.0 L196.2,220.0 L195.7,220.0 L195.2,220.0 L194.7,220.0 L194.2,220.1 L193.7,220.1 L193.2,220.1 L192.7,220.1 L192.2,220.1 L191.8,220.2 L191.3,220.2 L190.8,220.2 L190.3,220.2 L189.8,220.2 L189.3,220.2 L188.8,220.3 L188.3,220.3 L187.8,220.3 L187.3,220.3 L186.8,220.3 L186.3,220.4 L185.8,220.4 L185.3,220.4 L184.8,220.4 L184.3,220.4 L183.8,220.4 L183.3,220.4 L182.8,220.5 L182.3,220.5 L181.8,220.5 L181.3,220.5 L180.8,220.5 L180.3,220.5 L179.8,220.5 L179.3,220.6 L178.8,220.6 L178.3,220.6 L177.8,220.6 L177.3,220.6 L176.8,220.6 L176.3,220.6 L175.9,220.6 L175.4,220.7 L174.9,220.7 L174.4,220.7 L173.9,220.7 L173.4,220.7 L172.9,220.7 L172.4,220.7 L171.9,220.7 L171.4,220.7 L170.9,220.7 L170.4,220.7 L169.9,220.8 L169.4,220.8 L168.9,220.8 L168.4,220.8 L167.9,220.8 L167.4,220.8 L166.9,220.8 L166.4,220.8 L165.9,220.8 L165.4,220.8 L164.9,220.8 L164.5,220.8 L164.0,220.8 L163.5,220.8 L163.0,220.8 L162.5,220.8 L162.0,220.8 L161.5,220.8 L161.0,220.8 L160.5,220.8 L160.0,220.8 L52.4,220.8Z" fill="url(#g_green)"/>
<path d="M143.0,292.6 L143.0,292.6 L143.5,292.5 L144.0,292.5 L144.5,292.4 L145.0,292.4 L145.5,292.3 L146.0,292.2 L146.5,292.2 L147.0,292.1 L147.5,292.1 L148.0,292.0 L148.5,291.9 L149.0,291.9 L149.5,291.8 L150.0,291.8 L150.5,291.7 L151.0,291.6 L151.5,291.6 L152.0,291.5 L152.5,291.5 L153.0,291.4 L153.5,291.4 L154.0,291.3 L154.5,291.3 L155.0,291.2 L155.5,291.2 L156.0,291.1 L156.5,291.1 L157.0,291.0 L157.5,290.9 L158.0,290.9 L158.5,290.8 L159.0,290.8 L159.5,290.7 L160.0,290.7 L160.5,290.7 L161.0,290.6 L161.5,290.6 L162.0,290.5 L162.5,290.5 L163.0,290.4 L163.5,290.4 L164.0,290.3 L164.5,290.3 L165.0,290.3 L165.5,290.2 L166.0,290.2 L166.5,290.1 L167.0,290.1 L167.5,290.1 L168.0,290.0 L168.5,290.0 L169.0,289.9 L169.5,289.9 L170.0,289.9 L170.5,289.8 L171.0,289.8 L171.5,289.7 L172.0,289.7 L172.5,289.7 L173.0,289.6 L173.5,289.6 L174.0,289.5 L174.5,289.5 L175.0,289.5 L175.5,289.4 L176.0,289.4 L176.5,289.3 L177.0,289.3 L177.5,289.2 L178.0,289.2 L178.5,289.1 L179.0,289.1 L179.5,289.0 L180.0,289.0 L180.5,288.9 L181.0,288.9 L181.5,288.8 L182.0,288.8 L182.5,288.7 L183.0,288.7 L183.5,288.6 L184.0,288.6 L184.5,288.5 L185.0,288.4 L185.5,288.4 L186.0,288.3 L186.5,288.2 L187.0,288.2 L187.5,288.1 L188.0,288.1 L188.5,288.0 L189.0,287.9 L189.5,287.9 L190.0,287.8 L190.5,287.7 L191.0,287.7 L191.5,287.6 L192.0,287.5 L192.5,287.5 L193.0,287.4 L193.5,287.3 L194.0,287.3 L194.5,287.2 L195.0,287.2 L195.5,287.1 L196.0,287.0 L196.5,287.0 L197.0,286.9 L197.5,286.9 L198.0,286.8 L198.5,286.8 L199.0,286.7 L199.5,286.6 L200.0,286.6 L200.5,286.6 L201.0,286.5 L201.5,286.4 L202.0,286.4 L202.5,286.3 L203.0,286.3 L203.5,286.2 L204.0,286.2 L204.5,286.1 L205.0,286.1 L205.5,286.0 L206.0,286.0 L206.5,285.9 L207.0,285.9 L207.5,285.8 L208.0,285.8 L208.5,285.7 L209.0,285.7 L209.5,285.7 L210.0,285.6 L210.5,285.6 L211.0,285.6 L211.5,285.6 L212.0,285.6 L212.5,285.6 L213.0,285.6 L213.5,285.6 L214.0,285.6 L214.5,285.6 L215.0,285.6 L215.5,285.6 L216.0,285.6 L216.5,285.6 L217.0,285.6 L217.5,285.6 L218.0,285.6 L218.5,285.6 L219.0,285.6 L219.5,285.6 L220.0,285.6 L220.5,285.6 L221.0,285.6 L221.5,285.7 L222.0,285.7 L222.5,285.7 L223.0,285.8 L223.5,285.8 L224.0,285.9 L224.5,286.0 L225.0,286.0 L225.5,286.1 L226.0,286.1 L226.5,286.1 L227.0,286.2 L227.5,286.2 L228.0,286.2 L228.5,286.2 L229.0,286.2 L229.5,286.2 L230.0,286.2 L230.5,286.1 L231.0,286.1 L231.5,286.1 L232.0,286.1 L232.5,286.1 L233.0,286.0 L233.5,286.0 L234.0,286.0 L234.5,285.9 L235.0,285.9 L235.5,285.9 L236.0,285.9 L236.5,285.8 L237.0,285.8 L237.5,285.8 L238.0,285.8 L238.5,285.7 L239.0,285.7 L239.5,285.7 L240.0,285.7 L240.5,285.6 L241.0,285.6 L241.5,285.6 L242.0,285.6 L242.5,285.5 L243.0,285.5 L243.5,285.4 L244.0,285.4 L244.5,285.3 L245.0,285.3 L245.5,285.2 L246.0,285.1 L246.5,285.0 L247.0,284.9 L247.5,284.7 L248.0,284.6 L248.5,284.5 L249.0,284.3 L249.5,284.2 L250.0,284.0 L250.5,283.8 L251.0,283.6 L251.5,283.4 L252.0,283.2 L252.5,283.0 L253.0,282.8 L253.5,282.5 L254.0,282.2 L254.5,282.0 L255.0,281.7 L255.5,281.4 L256.0,281.1 L256.5,280.8 L257.0,280.6 L257.5,280.3 L258.0,280.0 L258.5,279.7 L259.0,279.4 L259.5,279.2 L260.0,278.9 L260.5,278.6 L261.0,278.3 L261.5,278.0 L262.0,277.7 L262.5,277.4 L263.0,277.1 L263.5,276.8 L264.0,276.4 L264.5,276.1 L265.0,275.7 L265.5,275.4 L266.0,275.0 L266.5,274.6 L267.0,274.2 L267.5,273.8 L268.0,273.3 L268.5,272.9 L269.0,272.4 L269.5,271.9 L270.0,271.4 L270.5,270.9 L271.0,270.3 L271.5,269.8 L272.0,269.2 L272.5,268.6 L273.0,268.0 L273.5,267.4 L274.0,266.7 L274.5,265.9 L275.0,265.1 L275.5,264.3 L276.0,263.5 L276.5,262.6 L277.0,261.8 L277.5,260.9 L278.0,260.0 L278.5,259.1 L279.0,258.2 L279.5,257.2 L280.0,256.3 L280.5,255.3 L281.0,254.2 L281.5,253.1 L282.0,252.0 L282.5,250.8 L283.0,249.5 L283.5,248.1 L284.0,246.7 L284.5,245.2 L285.0,243.8 L285.5,242.3 L286.0,241.0 L286.5,239.7 L287.0,238.4 L287.5,237.1 L288.0,235.8 L288.5,234.5 L289.0,233.3 L289.5,232.1 L290.0,231.0 L290.5,229.9 L291.0,228.8 L291.5,227.7 L292.0,226.6 L292.5,225.6 L293.0,224.7 L293.5,223.8 L294.0,223.0 L294.5,222.3 L295.0,221.6 L295.5,221.1 L296.0,220.5 L296.5,220.0 L297.0,219.5 L297.5,218.9 L298.0,218.4 L298.5,217.7 L299.0,217.0 L299.5,216.2 L300.0,215.3 L300.5,214.3 L301.0,213.2 L301.5,212.1 L302.0,211.1 L302.5,210.0 L303.0,209.0 L303.5,208.0 L304.0,207.1 L304.5,206.1 L305.0,205.2 L305.5,204.3 L306.0,203.4 L306.5,202.5 L307.0,201.7 L307.5,200.8 L308.0,200.1 L308.5,199.3 L309.0,198.7 L309.5,198.8 L310.0,199.2 L310.5,199.5 L311.0,199.8 L311.5,200.2 L312.0,200.7 L312.5,201.2 L313.0,201.7 L313.5,202.3 L314.0,203.0 L314.5,203.6 L315.0,204.3 L315.5,205.0 L316.0,205.7 L316.5,206.3 L317.0,206.8 L317.5,207.2 L318.0,207.6 L318.5,208.0 L319.0,208.4 L319.5,208.9 L320.0,209.3 L320.5,209.7 L321.0,210.1 L321.5,210.5 L322.0,211.0 L322.5,211.5 L323.0,212.2 L323.5,212.9 L324.0,213.7 L324.5,214.5 L325.0,215.3 L325.5,216.1 L326.0,216.9 L326.5,217.8 L327.0,218.7 L327.5,219.5 L328.0,220.4 L328.5,221.2 L329.0,222.0 L329.5,222.6 L330.0,223.2 L330.5,223.8 L331.0,224.5 L331.5,225.2 L332.0,226.2 L332.5,227.5 L333.0,229.0 L333.5,230.4 L334.0,231.7 L334.5,233.1 L335.0,234.4 L335.5,235.8 L336.0,237.0 L336.5,238.2 L337.0,239.3 L337.5,240.4 L338.0,241.4 L338.5,242.5 L339.0,243.6 L339.5,244.7 L340.0,245.8 L340.5,247.0 L341.0,248.1 L341.5,249.2 L342.0,250.3 L342.5,251.4 L343.0,252.4 L343.5,253.5 L344.0,254.5 L344.5,255.5 L345.0,256.5 L345.5,257.4 L346.0,258.4 L346.5,259.3 L347.0,260.1 L347.5,261.0 L348.0,261.9 L348.5,262.7 L349.0,263.5 L349.5,264.3 L350.0,265.0 L350.5,265.7 L351.0,266.4 L351.5,267.1 L352.0,267.8 L352.5,268.4 L353.0,269.1 L353.5,269.7 L354.0,270.3 L354.5,270.8 L355.0,271.4 L355.5,271.9 L356.0,272.4 L356.5,272.9 L357.0,273.3 L357.5,273.7 L358.0,274.1 L358.5,274.4 L359.0,274.8 L359.5,275.2 L360.0,275.5 L360.5,275.9 L361.0,276.2 L361.5,276.6 L362.0,277.0 L362.5,277.4 L363.0,277.8 L363.5,278.3 L364.0,278.7 L364.5,279.1 L365.0,279.6 L365.5,280.0 L366.0,280.4 L366.5,280.9 L367.0,281.3 L367.5,281.6 L368.0,282.0 L368.5,282.3 L369.0,282.7 L369.5,283.0 L370.0,283.3 L370.5,283.7 L371.0,284.0 L371.5,284.3 L372.0,284.6 L372.5,284.8 L373.0,285.1 L373.5,285.4 L374.0,285.6 L374.5,285.8 L375.0,286.1 L375.5,286.3 L376.0,286.5 L376.5,286.7 L377.0,286.9 L377.5,287.1 L378.0,287.3 L378.5,287.5 L379.0,287.7 L379.5,287.9 L380.0,288.1 L380.5,288.2 L381.0,288.4 L381.5,288.6 L382.0,288.7 L382.5,288.8 L383.0,289.0 L383.5,289.1 L384.0,289.2 L384.5,289.4 L385.0,289.5 L385.5,289.6 L386.0,289.7 L386.5,289.8 L387.0,289.9 L387.5,290.0 L388.0,290.1 L388.5,290.2 L389.0,290.3 L389.5,290.4 L390.0,290.5 L390.5,290.6 L391.0,290.7 L391.5,290.7 L392.0,290.8 L392.5,290.9 L393.0,291.0 L393.5,291.0 L394.0,291.1 L394.5,291.2 L395.0,291.2 L395.5,291.3 L396.0,291.4 L396.5,291.4 L397.0,291.5 L397.5,291.5 L398.0,291.6 L398.5,291.7 L399.0,291.7 L399.5,291.8 L400.0,291.8 L400.5,291.9 L401.0,291.9 L401.5,292.0 L402.0,292.1 L402.5,292.1 L403.0,292.2 L403.5,292.2 L404.0,292.2 L404.5,292.3 L405.0,292.3 L405.5,292.4 L406.0,292.4 L406.5,292.4 L407.0,292.5 L407.5,292.5 L408.0,292.5 L408.5,292.5 L409.0,292.6 L409.5,292.6 L410.0,292.6 L410.0,292.6Z" fill="rgba(255,0,0,0.4)"/>
<linearGradient id="g_red" gradientUnits="userSpaceOnUse" x1="52.4" x2="679.6" y1="0" y2="0"><stop offset="0.1397" stop-color="rgb(228,70,80)"/><stop offset="0.2114" stop-color="rgb(243,0,0)"/><stop offset="0.5351" stop-color="rgb(243,0,0)"/><stop offset="0.5702" stop-color="rgb(228,70,80)"/></linearGradient>
<path d="M52.4,292.60 H153.0 M404.0,292.60 H679.6" stroke="rgb(228,70,80)" stroke-width="1.9" opacity="0.4" fill="none"/>
<path d="M52.4,293.2 L143.0,293.2 L144.3,293.1 L144.8,293.0 L145.3,292.9 L145.7,292.9 L146.2,292.8 L146.7,292.8 L147.2,292.7 L147.7,292.6 L148.2,292.6 L148.7,292.5 L149.2,292.5 L149.7,292.4 L150.2,292.4 L150.7,292.3 L151.2,292.2 L151.7,292.2 L152.2,292.1 L152.7,292.1 L153.2,292.0 L153.7,292.0 L154.2,291.9 L154.7,291.9 L155.2,291.8 L155.7,291.7 L156.2,291.7 L156.7,291.6 L157.2,291.6 L157.6,291.5 L158.1,291.5 L158.6,291.4 L159.1,291.4 L159.6,291.3 L160.1,291.3 L160.6,291.2 L161.1,291.2 L161.6,291.1 L162.1,291.1 L162.6,291.1 L163.1,291.0 L163.6,291.0 L164.1,290.9 L164.5,290.9 L165.0,290.8 L165.5,290.8 L166.0,290.8 L166.5,290.7 L167.0,290.7 L167.5,290.6 L168.0,290.6 L168.5,290.6 L169.0,290.5 L169.5,290.5 L170.0,290.4 L170.5,290.4 L171.0,290.4 L171.5,290.3 L172.0,290.3 L172.5,290.2 L173.0,290.2 L173.5,290.2 L174.0,290.1 L174.5,290.1 L175.0,290.0 L175.5,290.0 L176.0,290.0 L176.6,289.9 L177.1,289.9 L177.6,289.8 L178.1,289.8 L178.6,289.7 L179.1,289.7 L179.6,289.6 L180.1,289.6 L180.6,289.5 L181.1,289.5 L181.7,289.4 L182.2,289.4 L182.7,289.3 L183.2,289.3 L183.7,289.2 L184.2,289.1 L184.7,289.1 L185.2,289.0 L185.8,289.0 L186.3,288.9 L186.8,288.8 L187.3,288.8 L187.8,288.7 L188.3,288.6 L188.8,288.6 L189.3,288.5 L189.8,288.4 L190.3,288.4 L190.8,288.3 L191.3,288.2 L191.8,288.2 L192.3,288.1 L192.8,288.1 L193.3,288.0 L193.8,287.9 L194.3,287.9 L194.8,287.8 L195.3,287.7 L195.8,287.7 L196.2,287.6 L196.7,287.6 L197.2,287.5 L197.7,287.4 L198.2,287.4 L198.7,287.3 L199.2,287.3 L199.6,287.2 L200.1,287.2 L200.6,287.1 L201.1,287.1 L201.7,287.0 L202.2,287.0 L202.7,286.9 L203.2,286.9 L203.7,286.8 L204.2,286.8 L204.7,286.7 L205.2,286.6 L205.7,286.6 L206.2,286.5 L206.6,286.5 L207.1,286.4 L207.6,286.4 L208.0,286.4 L208.5,286.3 L209.0,286.3 L209.4,286.3 L209.9,286.2 L210.3,286.2 L210.7,286.2 L211.2,286.2 L211.6,286.2 L212.0,286.2 L212.5,286.2 L213.0,286.2 L213.5,286.2 L214.0,286.2 L214.5,286.2 L215.0,286.2 L215.5,286.2 L216.0,286.2 L216.5,286.2 L217.0,286.2 L217.5,286.2 L218.0,286.2 L218.5,286.2 L219.0,286.2 L219.5,286.2 L220.0,286.2 L220.3,286.2 L220.7,286.2 L221.1,286.2 L221.5,286.2 L221.9,286.3 L222.3,286.3 L222.8,286.4 L223.3,286.4 L223.8,286.5 L224.3,286.5 L224.9,286.6 L225.5,286.7 L226.1,286.7 L226.7,286.7 L227.3,286.8 L228.0,286.8 L228.6,286.8 L229.1,286.8 L229.7,286.7 L230.2,286.7 L230.7,286.7 L231.3,286.7 L231.8,286.7 L232.3,286.6 L232.9,286.6 L233.4,286.6 L233.9,286.6 L234.4,286.5 L234.9,286.5 L235.4,286.5 L235.9,286.4 L236.4,286.4 L236.9,286.4 L237.3,286.4 L237.8,286.3 L238.3,286.3 L238.8,286.3 L239.3,286.3 L239.8,286.2 L240.3,286.2 L240.8,286.2 L241.4,286.2 L241.9,286.1 L242.4,286.1 L243.0,286.1 L243.5,286.0 L244.0,286.0 L244.6,285.9 L245.3,285.9 L245.9,285.8 L246.5,285.7 L247.1,285.6 L247.7,285.4 L248.3,285.3 L248.8,285.2 L249.3,285.0 L249.9,284.9 L250.4,284.7 L250.9,284.5 L251.4,284.4 L252.0,284.2 L252.6,284.0 L253.1,283.8 L253.6,283.5 L254.2,283.3 L254.7,283.0 L255.2,282.8 L255.7,282.5 L256.2,282.2 L256.7,282.0 L257.2,281.7 L257.7,281.4 L258.2,281.1 L258.7,280.8 L259.2,280.5 L259.7,280.3 L260.2,280.0 L260.7,279.7 L261.2,279.4 L261.7,279.1 L262.2,278.9 L262.7,278.6 L263.2,278.3 L263.8,278.0 L264.3,277.7 L264.8,277.3 L265.3,277.0 L265.8,276.7 L266.3,276.3 L266.8,276.0 L267.3,275.6 L267.8,275.2 L268.3,274.8 L268.8,274.4 L269.3,274.0 L269.9,273.5 L270.4,273.0 L270.9,272.6 L271.4,272.1 L271.9,271.6 L272.4,271.0 L272.9,270.5 L273.4,269.9 L273.9,269.3 L274.4,268.7 L274.9,268.1 L275.4,267.5 L275.9,266.8 L276.4,266.0 L276.9,265.2 L277.4,264.4 L277.9,263.6 L278.4,262.7 L278.9,261.9 L279.4,261.0 L279.9,260.1 L280.4,259.2 L280.9,258.3 L281.4,257.3 L281.9,256.3 L282.4,255.3 L282.9,254.3 L283.4,253.2 L283.9,252.1 L284.4,250.8 L284.9,249.5 L285.4,248.1 L285.9,246.7 L286.4,245.3 L286.9,243.8 L287.4,242.4 L287.9,241.1 L288.4,239.8 L288.9,238.4 L289.4,237.1 L289.9,235.9 L290.4,234.6 L290.9,233.4 L291.4,232.2 L291.9,231.1 L292.4,230.0 L292.9,228.9 L293.4,227.8 L293.9,226.7 L294.4,225.7 L294.9,224.8 L295.4,223.9 L295.9,223.1 L296.4,222.4 L296.9,221.8 L297.4,221.2 L297.9,220.7 L298.4,220.2 L298.9,219.6 L299.4,219.1 L299.9,218.5 L300.4,217.8 L300.9,217.1 L301.4,216.3 L301.9,215.3 L302.4,214.3 L302.9,213.3 L303.4,212.2 L303.9,211.1 L304.4,210.1 L304.9,209.1 L305.4,208.1 L305.9,207.2 L306.4,206.2 L306.9,205.3 L307.4,204.4 L307.9,203.5 L308.4,202.6 L308.9,201.8 L309.4,200.9 L309.9,200.2 L310.4,199.5 L310.7,199.0 L307.9,199.1 L308.2,199.4 L308.7,199.7 L309.2,200.0 L309.7,200.4 L310.1,200.8 L310.6,201.3 L311.1,201.9 L311.6,202.5 L312.1,203.1 L312.6,203.7 L313.1,204.4 L313.6,205.2 L314.1,205.9 L314.6,206.5 L315.1,207.0 L315.7,207.4 L316.2,207.8 L316.7,208.2 L317.2,208.6 L317.7,209.1 L318.2,209.5 L318.7,209.9 L319.2,210.3 L319.6,210.7 L320.1,211.1 L320.6,211.7 L321.1,212.3 L321.6,213.0 L322.1,213.8 L322.6,214.6 L323.1,215.4 L323.6,216.2 L324.1,217.0 L324.6,217.9 L325.1,218.7 L325.6,219.6 L326.1,220.5 L326.6,221.3 L327.1,222.1 L327.6,222.8 L328.1,223.4 L328.6,224.0 L329.1,224.6 L329.6,225.3 L330.1,226.3 L330.6,227.6 L331.1,229.0 L331.6,230.5 L332.1,231.8 L332.6,233.2 L333.1,234.5 L333.6,235.8 L334.1,237.1 L334.6,238.2 L335.1,239.4 L335.6,240.5 L336.1,241.5 L336.6,242.6 L337.1,243.7 L337.6,244.8 L338.1,245.9 L338.6,247.0 L339.1,248.2 L339.6,249.3 L340.1,250.4 L340.6,251.5 L341.1,252.5 L341.6,253.5 L342.1,254.6 L342.6,255.6 L343.1,256.6 L343.6,257.5 L344.1,258.4 L344.6,259.4 L345.1,260.2 L345.6,261.1 L346.1,262.0 L346.6,262.8 L347.1,263.6 L347.6,264.4 L348.1,265.1 L348.6,265.8 L349.1,266.5 L349.6,267.2 L350.1,267.9 L350.6,268.5 L351.1,269.2 L351.6,269.8 L352.1,270.4 L352.6,271.0 L353.1,271.5 L353.6,272.1 L354.1,272.6 L354.6,273.0 L355.2,273.5 L355.7,273.9 L356.2,274.3 L356.7,274.7 L357.2,275.0 L357.7,275.4 L358.2,275.7 L358.7,276.1 L359.2,276.4 L359.7,276.8 L360.2,277.2 L360.7,277.6 L361.2,278.0 L361.7,278.4 L362.1,278.9 L362.6,279.3 L363.2,279.8 L363.7,280.2 L364.2,280.6 L364.7,281.0 L365.2,281.5 L365.7,281.8 L366.2,282.2 L366.7,282.6 L367.2,282.9 L367.7,283.2 L368.2,283.6 L368.7,283.9 L369.2,284.2 L369.8,284.5 L370.3,284.8 L370.8,285.1 L371.3,285.4 L371.8,285.6 L372.3,285.9 L372.8,286.1 L373.4,286.4 L373.9,286.6 L374.4,286.8 L374.9,287.1 L375.4,287.3 L375.9,287.5 L376.4,287.7 L377.0,287.9 L377.5,288.1 L378.0,288.3 L378.5,288.4 L379.0,288.6 L379.6,288.8 L380.1,289.0 L380.6,289.1 L381.2,289.3 L381.7,289.4 L382.2,289.5 L382.7,289.7 L383.2,289.8 L383.8,289.9 L384.3,290.0 L384.8,290.2 L385.3,290.3 L385.9,290.4 L386.4,290.5 L386.9,290.6 L387.4,290.7 L388.0,290.8 L388.5,290.9 L389.0,291.0 L389.5,291.1 L390.1,291.2 L390.6,291.2 L391.1,291.3 L391.6,291.4 L392.1,291.5 L392.7,291.6 L393.2,291.6 L393.7,291.7 L394.2,291.8 L394.7,291.8 L395.2,291.9 L395.8,291.9 L396.3,292.0 L396.8,292.1 L397.3,292.1 L397.8,292.2 L398.3,292.2 L398.8,292.3 L399.3,292.4 L399.8,292.4 L400.3,292.5 L400.8,292.5 L401.3,292.6 L401.9,292.6 L402.4,292.7 L402.9,292.7 L403.4,292.8 L404.0,292.8 L404.5,292.9 L405.0,292.9 L405.6,293.0 L406.1,293.0 L406.6,293.0 L407.1,293.0 L407.7,293.1 L408.2,293.1 L408.7,293.1 L409.2,293.1 L410.0,293.2 L679.6,293.2 L679.6,292.0 L410.0,292.0 L409.8,292.0 L409.3,292.0 L408.8,292.0 L408.3,292.0 L407.9,291.9 L407.4,291.9 L406.9,291.9 L406.4,291.8 L406.0,291.8 L405.5,291.8 L405.0,291.7 L404.6,291.7 L404.1,291.7 L403.6,291.6 L403.1,291.6 L402.7,291.5 L402.2,291.5 L401.7,291.4 L401.2,291.4 L400.7,291.3 L400.2,291.2 L399.7,291.2 L399.2,291.1 L398.7,291.1 L398.2,291.0 L397.7,291.0 L397.2,290.9 L396.8,290.8 L396.3,290.8 L395.8,290.7 L395.3,290.7 L394.8,290.6 L394.3,290.5 L393.9,290.5 L393.4,290.4 L392.9,290.3 L392.4,290.2 L391.9,290.2 L391.5,290.1 L391.0,290.0 L390.5,289.9 L390.0,289.8 L389.6,289.8 L389.1,289.7 L388.6,289.6 L388.1,289.5 L387.7,289.4 L387.2,289.3 L386.7,289.2 L386.2,289.0 L385.8,288.9 L385.3,288.8 L384.8,288.7 L384.3,288.6 L383.8,288.4 L383.4,288.3 L382.9,288.2 L382.4,288.0 L382.0,287.9 L381.5,287.7 L381.0,287.5 L380.5,287.4 L380.0,287.2 L379.6,287.0 L379.1,286.8 L378.6,286.6 L378.1,286.4 L377.6,286.2 L377.1,286.0 L376.6,285.8 L376.2,285.5 L375.7,285.3 L375.2,285.1 L374.7,284.8 L374.2,284.6 L373.7,284.3 L373.2,284.0 L372.8,283.7 L372.3,283.4 L371.8,283.1 L371.3,282.8 L370.8,282.5 L370.3,282.1 L369.8,281.8 L369.3,281.4 L368.8,281.1 L368.3,280.7 L367.8,280.3 L367.3,279.8 L366.8,279.4 L366.4,279.0 L365.9,278.5 L365.3,278.1 L364.8,277.6 L364.3,277.2 L363.8,276.8 L363.3,276.4 L362.8,276.0 L362.3,275.7 L361.8,275.3 L361.3,274.9 L360.8,274.6 L360.3,274.2 L359.8,273.9 L359.3,273.5 L358.8,273.1 L358.4,272.7 L357.9,272.2 L357.4,271.8 L356.9,271.2 L356.4,270.7 L355.9,270.1 L355.4,269.5 L354.9,268.9 L354.4,268.3 L353.9,267.6 L353.4,267.0 L352.9,266.3 L352.4,265.6 L351.9,264.9 L351.4,264.2 L350.9,263.4 L350.4,262.6 L349.9,261.8 L349.4,260.9 L348.9,260.1 L348.4,259.2 L347.9,258.3 L347.4,257.3 L346.9,256.4 L346.4,255.4 L345.9,254.4 L345.4,253.4 L344.9,252.4 L344.4,251.3 L343.9,250.2 L343.4,249.1 L342.9,248.0 L342.4,246.9 L341.9,245.8 L341.4,244.6 L340.9,243.5 L340.4,242.4 L339.9,241.4 L339.4,240.3 L338.9,239.2 L338.4,238.1 L337.9,236.9 L337.4,235.7 L336.9,234.4 L336.4,233.0 L335.9,231.7 L335.4,230.3 L334.9,228.9 L334.4,227.5 L333.9,226.2 L333.4,225.2 L332.9,224.4 L332.4,223.7 L331.9,223.1 L331.4,222.5 L330.9,221.9 L330.4,221.1 L329.9,220.3 L329.4,219.4 L328.9,218.6 L328.4,217.7 L327.9,216.8 L327.4,216.0 L326.9,215.2 L326.4,214.4 L325.9,213.6 L325.4,212.8 L324.9,212.1 L324.4,211.4 L323.9,210.8 L323.4,210.3 L322.8,209.9 L322.3,209.5 L321.8,209.1 L321.3,208.7 L320.8,208.3 L320.3,207.8 L319.8,207.5 L319.3,207.1 L318.9,206.6 L318.4,206.2 L317.9,205.6 L317.4,204.9 L316.9,204.2 L316.4,203.5 L315.9,202.8 L315.4,202.2 L314.9,201.6 L314.4,201.0 L313.9,200.5 L313.3,200.0 L312.8,199.6 L312.3,199.3 L311.8,198.9 L311.1,198.5 L307.3,198.4 L306.6,199.2 L306.1,200.0 L305.6,200.7 L305.1,201.6 L304.6,202.4 L304.1,203.3 L303.6,204.2 L303.1,205.1 L302.6,206.0 L302.1,207.0 L301.6,208.0 L301.1,208.9 L300.6,209.9 L300.1,211.0 L299.6,212.1 L299.1,213.1 L298.6,214.2 L298.1,215.2 L297.6,216.1 L297.1,216.9 L296.6,217.6 L296.1,218.2 L295.6,218.8 L295.1,219.3 L294.6,219.8 L294.1,220.4 L293.6,220.9 L293.1,221.5 L292.6,222.2 L292.1,222.9 L291.6,223.7 L291.1,224.6 L290.6,225.6 L290.1,226.6 L289.6,227.6 L289.1,228.7 L288.6,229.8 L288.1,230.9 L287.6,232.1 L287.1,233.3 L286.6,234.5 L286.1,235.7 L285.6,237.0 L285.1,238.3 L284.6,239.6 L284.1,240.9 L283.6,242.3 L283.1,243.7 L282.6,245.1 L282.1,246.6 L281.6,248.0 L281.1,249.4 L280.6,250.7 L280.1,251.9 L279.6,253.1 L279.1,254.1 L278.6,255.2 L278.1,256.2 L277.6,257.2 L277.1,258.1 L276.6,259.0 L276.1,259.9 L275.6,260.8 L275.1,261.7 L274.6,262.6 L274.1,263.4 L273.6,264.2 L273.1,265.0 L272.6,265.8 L272.1,266.5 L271.6,267.2 L271.1,267.9 L270.6,268.5 L270.1,269.1 L269.6,269.6 L269.1,270.2 L268.6,270.7 L268.1,271.3 L267.6,271.8 L267.1,272.2 L266.6,272.7 L266.1,273.2 L265.7,273.6 L265.2,274.0 L264.7,274.4 L264.2,274.8 L263.7,275.2 L263.2,275.5 L262.7,275.9 L262.2,276.2 L261.7,276.5 L261.2,276.9 L260.7,277.2 L260.2,277.5 L259.8,277.8 L259.3,278.1 L258.8,278.3 L258.3,278.6 L257.8,278.9 L257.3,279.2 L256.8,279.5 L256.3,279.7 L255.8,280.0 L255.3,280.3 L254.8,280.6 L254.3,280.9 L253.8,281.2 L253.3,281.4 L252.8,281.7 L252.3,282.0 L251.8,282.2 L251.3,282.5 L250.8,282.7 L250.4,282.9 L249.9,283.1 L249.4,283.3 L249.0,283.5 L248.6,283.6 L248.1,283.8 L247.6,283.9 L247.1,284.1 L246.7,284.2 L246.2,284.3 L245.7,284.4 L245.3,284.5 L244.9,284.6 L244.5,284.7 L244.1,284.8 L243.7,284.8 L243.4,284.9 L243.0,284.9 L242.5,284.9 L242.0,285.0 L241.6,285.0 L241.1,285.0 L240.6,285.1 L240.2,285.1 L239.7,285.1 L239.2,285.1 L238.7,285.1 L238.2,285.2 L237.7,285.2 L237.2,285.2 L236.7,285.2 L236.1,285.3 L235.6,285.3 L235.1,285.3 L234.6,285.4 L234.1,285.4 L233.6,285.4 L233.1,285.4 L232.6,285.5 L232.1,285.5 L231.7,285.5 L231.2,285.5 L230.7,285.6 L230.3,285.6 L229.8,285.6 L229.3,285.6 L228.9,285.6 L228.4,285.6 L228.0,285.6 L227.7,285.6 L227.3,285.6 L226.9,285.6 L226.5,285.6 L226.1,285.5 L225.7,285.5 L225.2,285.4 L224.7,285.4 L224.2,285.3 L223.7,285.3 L223.1,285.2 L222.5,285.1 L221.9,285.1 L221.3,285.1 L220.7,285.0 L220.0,285.0 L219.5,285.0 L219.0,285.0 L218.5,285.0 L218.0,285.0 L217.5,285.0 L217.0,285.0 L216.5,285.0 L216.0,285.0 L215.5,285.0 L215.0,285.0 L214.5,285.0 L214.0,285.0 L213.5,285.0 L213.0,285.0 L212.5,285.0 L212.0,285.0 L211.4,285.0 L210.8,285.0 L210.3,285.1 L209.7,285.1 L209.1,285.1 L208.6,285.1 L208.0,285.2 L207.5,285.2 L207.0,285.3 L206.4,285.3 L205.9,285.4 L205.4,285.4 L204.8,285.5 L204.3,285.5 L203.8,285.6 L203.3,285.6 L202.8,285.7 L202.3,285.7 L201.8,285.8 L201.3,285.9 L200.8,285.9 L200.3,286.0 L199.9,286.0 L199.4,286.1 L198.9,286.1 L198.4,286.2 L197.8,286.2 L197.3,286.3 L196.8,286.3 L196.3,286.4 L195.8,286.4 L195.3,286.5 L194.8,286.6 L194.2,286.6 L193.7,286.7 L193.2,286.8 L192.7,286.8 L192.2,286.9 L191.7,286.9 L191.2,287.0 L190.7,287.1 L190.2,287.1 L189.7,287.2 L189.2,287.3 L188.7,287.3 L188.2,287.4 L187.7,287.5 L187.2,287.5 L186.7,287.6 L186.2,287.7 L185.7,287.7 L185.2,287.8 L184.7,287.8 L184.2,287.9 L183.8,288.0 L183.3,288.0 L182.8,288.1 L182.3,288.1 L181.8,288.2 L181.3,288.3 L180.8,288.3 L180.3,288.4 L179.9,288.4 L179.4,288.5 L178.9,288.5 L178.4,288.6 L177.9,288.6 L177.4,288.6 L176.9,288.7 L176.4,288.7 L175.9,288.8 L175.4,288.8 L175.0,288.9 L174.5,288.9 L174.0,288.9 L173.5,289.0 L173.0,289.0 L172.5,289.1 L172.0,289.1 L171.5,289.1 L171.0,289.2 L170.5,289.2 L170.0,289.3 L169.5,289.3 L169.0,289.3 L168.5,289.4 L168.0,289.4 L167.5,289.5 L167.0,289.5 L166.5,289.5 L166.0,289.6 L165.5,289.6 L165.0,289.7 L164.5,289.7 L164.0,289.7 L163.5,289.8 L162.9,289.8 L162.4,289.9 L161.9,289.9 L161.4,290.0 L160.9,290.0 L160.4,290.1 L159.9,290.1 L159.4,290.2 L158.9,290.2 L158.4,290.3 L157.9,290.3 L157.4,290.4 L156.9,290.4 L156.4,290.5 L155.8,290.5 L155.3,290.6 L154.8,290.6 L154.3,290.7 L153.8,290.7 L153.3,290.8 L152.8,290.8 L152.3,290.9 L151.8,290.9 L151.3,291.0 L150.8,291.1 L150.3,291.1 L149.8,291.2 L149.3,291.2 L148.8,291.3 L148.3,291.3 L147.8,291.4 L147.3,291.5 L146.8,291.5 L146.3,291.6 L145.8,291.6 L145.3,291.7 L144.8,291.8 L144.3,291.8 L143.7,291.9 L143.2,292.0 L142.7,292.0 L143.0,292.0 L52.4,292.0Z" fill="url(#g_red)"/>
<path d="M100.0,363.2 L100.0,363.2 L100.5,363.2 L101.0,363.2 L101.5,363.2 L102.0,363.2 L102.5,363.2 L103.0,363.2 L103.5,363.2 L104.0,363.2 L104.5,363.2 L105.0,363.2 L105.5,363.2 L106.0,363.2 L106.5,363.2 L107.0,363.2 L107.5,363.2 L108.0,363.2 L108.5,363.2 L109.0,363.2 L109.5,363.1 L110.0,363.1 L110.5,363.1 L111.0,363.1 L111.5,363.1 L112.0,363.1 L112.5,363.1 L113.0,363.1 L113.5,363.1 L114.0,363.1 L114.5,363.1 L115.0,363.1 L115.5,363.1 L116.0,363.1 L116.5,363.1 L117.0,363.1 L117.5,363.0 L118.0,363.0 L118.5,363.0 L119.0,363.0 L119.5,363.0 L120.0,363.0 L120.5,363.0 L121.0,363.0 L121.5,363.0 L122.0,363.0 L122.5,362.9 L123.0,362.9 L123.5,362.9 L124.0,362.9 L124.5,362.9 L125.0,362.8 L125.5,362.8 L126.0,362.8 L126.5,362.8 L127.0,362.7 L127.5,362.7 L128.0,362.7 L128.5,362.7 L129.0,362.6 L129.5,362.6 L130.0,362.6 L130.5,362.5 L131.0,362.5 L131.5,362.4 L132.0,362.4 L132.5,362.4 L133.0,362.3 L133.5,362.3 L134.0,362.2 L134.5,362.2 L135.0,362.1 L135.5,362.1 L136.0,362.0 L136.5,362.0 L137.0,361.9 L137.5,361.9 L138.0,361.8 L138.5,361.8 L139.0,361.7 L139.5,361.7 L140.0,361.6 L140.5,361.5 L141.0,361.4 L141.5,361.4 L142.0,361.2 L142.5,361.1 L143.0,361.0 L143.5,360.9 L144.0,360.7 L144.5,360.6 L145.0,360.4 L145.5,360.3 L146.0,360.1 L146.5,360.0 L147.0,359.9 L147.5,359.7 L148.0,359.6 L148.5,359.5 L149.0,359.4 L149.5,359.3 L150.0,359.1 L150.5,359.0 L151.0,358.9 L151.5,358.8 L152.0,358.7 L152.5,358.6 L153.0,358.5 L153.5,358.4 L154.0,358.3 L154.5,358.2 L155.0,358.0 L155.5,357.9 L156.0,357.8 L156.5,357.7 L157.0,357.6 L157.5,357.5 L158.0,357.4 L158.5,357.3 L159.0,357.2 L159.5,357.1 L160.0,357.0 L160.5,356.9 L161.0,356.8 L161.5,356.7 L162.0,356.6 L162.5,356.5 L163.0,356.4 L163.5,356.3 L164.0,356.2 L164.5,356.1 L165.0,356.0 L165.5,355.9 L166.0,355.8 L166.5,355.7 L167.0,355.6 L167.5,355.5 L168.0,355.4 L168.5,355.3 L169.0,355.2 L169.5,355.1 L170.0,355.0 L170.5,354.9 L171.0,354.8 L171.5,354.6 L172.0,354.5 L172.5,354.4 L173.0,354.2 L173.5,354.1 L174.0,354.0 L174.5,353.9 L175.0,353.8 L175.5,353.7 L176.0,353.6 L176.5,353.5 L177.0,353.5 L177.5,353.4 L178.0,353.3 L178.5,353.3 L179.0,353.2 L179.5,353.1 L180.0,353.1 L180.5,353.1 L181.0,353.0 L181.5,353.0 L182.0,353.0 L182.5,353.0 L183.0,353.0 L183.5,353.1 L184.0,353.1 L184.5,353.1 L185.0,353.2 L185.5,353.3 L186.0,353.3 L186.5,353.4 L187.0,353.5 L187.5,353.5 L188.0,353.6 L188.5,353.7 L189.0,353.8 L189.5,353.9 L190.0,354.1 L190.5,354.2 L191.0,354.4 L191.5,354.6 L192.0,354.7 L192.5,354.8 L193.0,354.9 L193.5,355.0 L194.0,355.0 L194.5,355.0 L195.0,355.0 L195.5,355.0 L196.0,355.0 L196.5,355.0 L197.0,355.0 L197.5,355.0 L198.0,355.0 L198.5,355.0 L199.0,355.0 L199.5,355.0 L200.0,355.0 L200.5,355.0 L201.0,355.0 L201.5,355.0 L202.0,355.0 L202.5,355.0 L203.0,355.2 L203.5,355.4 L204.0,355.6 L204.5,355.9 L205.0,356.2 L205.5,356.6 L206.0,356.9 L206.5,357.1 L207.0,357.4 L207.5,357.5 L208.0,357.6 L208.5,357.6 L209.0,357.7 L209.5,357.7 L210.0,357.7 L210.5,357.8 L211.0,357.8 L211.5,357.8 L212.0,357.8 L212.5,357.9 L213.0,357.9 L213.5,357.9 L214.0,357.9 L214.5,357.9 L215.0,357.9 L215.5,357.9 L216.0,357.9 L216.5,357.9 L217.0,357.9 L217.5,357.8 L218.0,357.8 L218.5,357.8 L219.0,357.8 L219.5,357.8 L220.0,357.7 L220.5,357.7 L221.0,357.7 L221.5,357.6 L222.0,357.6 L222.5,357.6 L223.0,357.5 L223.5,357.5 L224.0,357.4 L224.5,357.4 L225.0,357.3 L225.5,357.3 L226.0,357.2 L226.5,357.1 L227.0,357.1 L227.5,357.0 L228.0,356.9 L228.5,356.9 L229.0,356.8 L229.5,356.7 L230.0,356.6 L230.5,356.5 L231.0,356.4 L231.5,356.3 L232.0,356.2 L232.5,356.1 L233.0,355.9 L233.5,355.8 L234.0,355.7 L234.5,355.5 L235.0,355.3 L235.5,355.2 L236.0,355.0 L236.5,354.8 L237.0,354.7 L237.5,354.5 L238.0,354.3 L238.5,354.1 L239.0,353.9 L239.5,353.7 L240.0,353.5 L240.5,353.2 L241.0,353.0 L241.5,352.7 L242.0,352.4 L242.5,352.2 L243.0,351.9 L243.5,351.6 L244.0,351.3 L244.5,351.0 L245.0,350.6 L245.5,350.3 L246.0,350.0 L246.5,349.7 L247.0,349.3 L247.5,348.9 L248.0,348.6 L248.5,348.2 L249.0,347.7 L249.5,347.3 L250.0,346.9 L250.5,346.4 L251.0,346.0 L251.5,345.5 L252.0,345.0 L252.5,344.5 L253.0,343.9 L253.5,343.3 L254.0,342.7 L254.5,342.1 L255.0,341.4 L255.5,340.8 L256.0,340.2 L256.5,339.6 L257.0,339.0 L257.5,338.5 L258.0,337.9 L258.5,337.4 L259.0,336.8 L259.5,336.3 L260.0,335.8 L260.5,335.3 L261.0,334.8 L261.5,334.4 L262.0,334.0 L262.5,333.7 L263.0,333.4 L263.5,333.1 L264.0,332.9 L264.5,332.6 L265.0,332.4 L265.5,332.2 L266.0,331.9 L266.5,331.6 L267.0,331.2 L267.5,330.8 L268.0,330.2 L268.5,329.5 L269.0,328.7 L269.5,327.7 L270.0,326.6 L270.5,325.5 L271.0,324.4 L271.5,323.3 L272.0,322.1 L272.5,320.9 L273.0,319.6 L273.5,318.2 L274.0,316.8 L274.5,315.3 L275.0,313.8 L275.5,312.1 L276.0,310.5 L276.5,309.0 L277.0,307.5 L277.5,306.1 L278.0,304.8 L278.5,303.4 L279.0,302.2 L279.5,301.0 L280.0,300.0 L280.5,299.1 L281.0,298.2 L281.5,297.4 L282.0,296.6 L282.5,295.8 L283.0,295.0 L283.5,294.2 L284.0,293.4 L284.5,292.7 L285.0,291.9 L285.5,291.1 L286.0,290.2 L286.5,289.2 L287.0,288.0 L287.5,286.5 L288.0,284.9 L288.5,283.1 L289.0,281.4 L289.5,279.8 L290.0,278.2 L290.5,276.6 L291.0,275.1 L291.5,274.3 L292.0,273.7 L292.5,273.3 L293.0,273.0 L293.5,272.8 L294.0,272.7 L294.5,272.6 L295.0,272.6 L295.5,272.5 L296.0,272.5 L296.5,272.5 L297.0,272.6 L297.5,272.7 L298.0,272.8 L298.5,272.9 L299.0,273.1 L299.5,273.3 L300.0,273.7 L300.5,274.1 L301.0,274.5 L301.5,274.9 L302.0,275.3 L302.5,275.7 L303.0,276.2 L303.5,276.8 L304.0,277.3 L304.5,277.9 L305.0,278.5 L305.5,279.2 L306.0,279.9 L306.5,280.7 L307.0,281.4 L307.5,282.3 L308.0,283.1 L308.5,284.0 L309.0,284.9 L309.5,285.9 L310.0,286.9 L310.5,287.9 L311.0,289.0 L311.5,290.2 L312.0,291.5 L312.5,292.8 L313.0,294.3 L313.5,295.8 L314.0,297.3 L314.5,299.0 L315.0,300.8 L315.5,302.6 L316.0,304.1 L316.5,305.5 L317.0,306.8 L317.5,308.0 L318.0,309.3 L318.5,310.7 L319.0,312.0 L319.5,313.3 L320.0,314.5 L320.5,315.8 L321.0,317.0 L321.5,318.2 L322.0,319.4 L322.5,320.5 L323.0,321.6 L323.5,322.8 L324.0,323.9 L324.5,324.9 L325.0,326.0 L325.5,327.1 L326.0,328.1 L326.5,329.2 L327.0,330.2 L327.5,331.2 L328.0,332.2 L328.5,333.1 L329.0,334.0 L329.5,334.8 L330.0,335.6 L330.5,336.3 L331.0,337.0 L331.5,337.7 L332.0,338.4 L332.5,339.1 L333.0,339.7 L333.5,340.4 L334.0,341.0 L334.5,341.6 L335.0,342.3 L335.5,342.9 L336.0,343.5 L336.5,344.1 L337.0,344.7 L337.5,345.3 L338.0,345.9 L338.5,346.4 L339.0,347.0 L339.5,347.5 L340.0,348.0 L340.5,348.5 L341.0,349.0 L341.5,349.5 L342.0,349.9 L342.5,350.4 L343.0,350.8 L343.5,351.3 L344.0,351.7 L344.5,352.1 L345.0,352.5 L345.5,352.9 L346.0,353.3 L346.5,353.7 L347.0,354.0 L347.5,354.3 L348.0,354.7 L348.5,355.0 L349.0,355.3 L349.5,355.7 L350.0,356.0 L350.5,356.3 L351.0,356.6 L351.5,356.9 L352.0,357.2 L352.5,357.5 L353.0,357.7 L353.5,358.0 L354.0,358.2 L354.5,358.4 L355.0,358.6 L355.5,358.8 L356.0,359.0 L356.5,359.2 L357.0,359.3 L357.5,359.4 L358.0,359.6 L358.5,359.7 L359.0,359.8 L359.5,359.9 L360.0,360.1 L360.5,360.2 L361.0,360.3 L361.5,360.4 L362.0,360.5 L362.5,360.5 L363.0,360.6 L363.5,360.7 L364.0,360.8 L364.5,360.9 L365.0,361.0 L365.5,361.0 L366.0,361.1 L366.5,361.2 L367.0,361.2 L367.5,361.3 L368.0,361.4 L368.5,361.4 L369.0,361.5 L369.5,361.5 L370.0,361.6 L370.5,361.7 L371.0,361.7 L371.5,361.8 L372.0,361.8 L372.5,361.9 L373.0,361.9 L373.5,362.0 L374.0,362.0 L374.5,362.0 L375.0,362.1 L375.5,362.1 L376.0,362.2 L376.5,362.2 L377.0,362.3 L377.5,362.3 L378.0,362.4 L378.5,362.4 L379.0,362.4 L379.5,362.5 L380.0,362.5 L380.5,362.6 L381.0,362.6 L381.5,362.6 L382.0,362.7 L382.5,362.7 L383.0,362.7 L383.5,362.8 L384.0,362.8 L384.5,362.8 L385.0,362.9 L385.5,362.9 L386.0,362.9 L386.5,362.9 L387.0,363.0 L387.5,363.0 L388.0,363.0 L388.5,363.0 L389.0,363.0 L389.5,363.1 L390.0,363.1 L390.5,363.1 L391.0,363.1 L391.5,363.1 L392.0,363.1 L392.5,363.1 L393.0,363.2 L393.5,363.2 L394.0,363.2 L394.5,363.2 L395.0,363.2 L395.5,363.2 L396.0,363.2 L396.0,363.2Z" fill="rgba(255,128,0,0.4)"/>
<linearGradient id="g_orange" gradientUnits="userSpaceOnUse" x1="52.4" x2="679.6" y1="0" y2="0"><stop offset="0.1158" stop-color="rgb(255,158,60)"/><stop offset="0.1716" stop-color="rgb(255,128,0)"/><stop offset="0.4936" stop-color="rgb(255,128,0)"/><stop offset="0.5383" stop-color="rgb(255,158,60)"/></linearGradient>
<path d="M52.4,363.20 H110.0 M390.0,363.20 H679.6" stroke="rgb(255,158,60)" stroke-width="1.9" opacity="0.4" fill="none"/>
<path d="M52.4,363.8 L100.0,363.8 L100.5,363.8 L101.0,363.8 L101.5,363.8 L102.0,363.8 L102.5,363.8 L103.0,363.8 L103.5,363.8 L104.0,363.8 L104.5,363.8 L105.0,363.8 L105.5,363.8 L106.0,363.7 L106.5,363.7 L107.1,363.7 L107.6,363.7 L108.1,363.7 L108.6,363.7 L109.1,363.7 L109.6,363.7 L110.1,363.7 L110.6,363.7 L111.1,363.7 L111.6,363.7 L112.1,363.7 L112.6,363.7 L113.1,363.7 L113.6,363.7 L114.1,363.7 L114.6,363.7 L115.1,363.6 L115.6,363.6 L116.1,363.6 L116.6,363.6 L117.1,363.6 L117.6,363.6 L118.1,363.6 L118.6,363.6 L119.1,363.6 L119.6,363.6 L120.1,363.6 L120.6,363.6 L121.2,363.5 L121.7,363.5 L122.2,363.5 L122.7,363.5 L123.2,363.5 L123.7,363.5 L124.3,363.5 L124.8,363.4 L125.3,363.4 L125.8,363.4 L126.3,363.4 L126.8,363.3 L127.4,363.3 L127.9,363.3 L128.4,363.2 L128.9,363.2 L129.4,363.2 L129.9,363.1 L130.5,363.1 L131.0,363.1 L131.5,363.0 L132.0,363.0 L132.5,363.0 L133.0,362.9 L133.5,362.9 L134.1,362.8 L134.6,362.8 L135.1,362.7 L135.6,362.7 L136.1,362.6 L136.6,362.6 L137.1,362.5 L137.7,362.5 L138.2,362.4 L138.7,362.4 L139.2,362.3 L139.7,362.2 L140.2,362.2 L140.8,362.1 L141.4,362.0 L142.0,361.9 L142.6,361.8 L143.2,361.7 L143.8,361.6 L144.3,361.4 L144.8,361.3 L145.4,361.1 L145.9,361.0 L146.4,360.8 L146.9,360.7 L147.4,360.5 L147.8,360.4 L148.3,360.3 L148.8,360.2 L149.2,360.0 L149.7,359.9 L150.2,359.8 L150.7,359.7 L151.2,359.6 L151.7,359.5 L152.2,359.4 L152.7,359.3 L153.2,359.2 L153.7,359.0 L154.2,358.9 L154.7,358.8 L155.2,358.7 L155.7,358.6 L156.1,358.5 L156.6,358.4 L157.1,358.3 L157.6,358.2 L158.1,358.1 L158.6,358.0 L159.1,357.9 L159.6,357.8 L160.1,357.7 L160.6,357.6 L161.1,357.5 L161.6,357.4 L162.1,357.3 L162.6,357.2 L163.1,357.1 L163.6,357.0 L164.1,356.9 L164.6,356.8 L165.1,356.7 L165.6,356.6 L166.1,356.5 L166.6,356.4 L167.1,356.3 L167.6,356.2 L168.1,356.1 L168.6,356.0 L169.1,355.9 L169.6,355.8 L170.1,355.7 L170.6,355.6 L171.2,355.5 L171.7,355.3 L172.3,355.2 L172.8,355.1 L173.3,354.9 L173.8,354.8 L174.3,354.7 L174.8,354.5 L175.2,354.4 L175.7,354.3 L176.1,354.2 L176.5,354.2 L176.9,354.1 L177.4,354.0 L177.8,354.0 L178.3,353.9 L178.8,353.8 L179.3,353.8 L179.7,353.7 L180.1,353.7 L180.6,353.6 L180.9,353.6 L181.3,353.6 L181.7,353.6 L182.0,353.6 L182.3,353.6 L182.7,353.6 L183.1,353.6 L183.4,353.6 L183.9,353.7 L184.3,353.7 L184.7,353.8 L185.2,353.8 L185.7,353.9 L186.2,354.0 L186.6,354.0 L187.1,354.1 L187.4,354.2 L187.7,354.2 L188.1,354.3 L188.6,354.5 L189.1,354.6 L189.6,354.8 L190.1,355.0 L190.7,355.1 L191.3,355.3 L192.1,355.4 L193.0,355.5 L193.9,355.6 L194.5,355.6 L195.0,355.6 L195.5,355.6 L196.0,355.6 L196.5,355.6 L197.0,355.6 L197.5,355.6 L198.0,355.6 L198.5,355.6 L199.0,355.6 L199.5,355.6 L200.0,355.6 L200.5,355.6 L201.0,355.6 L201.5,355.6 L201.7,355.6 L201.5,355.5 L201.5,355.6 L201.9,355.7 L202.3,355.9 L202.7,356.2 L203.2,356.5 L203.7,356.8 L204.3,357.1 L204.8,357.4 L205.4,357.7 L206.2,358.0 L207.2,358.1 L208.0,358.2 L208.5,358.2 L209.1,358.3 L209.6,358.3 L210.1,358.3 L210.7,358.4 L211.2,358.4 L211.7,358.4 L212.3,358.4 L212.8,358.4 L213.4,358.5 L213.9,358.5 L214.5,358.5 L215.0,358.5 L215.6,358.5 L216.1,358.5 L216.7,358.4 L217.2,358.4 L217.8,358.4 L218.3,358.4 L218.8,358.4 L219.3,358.3 L219.9,358.3 L220.4,358.3 L220.9,358.3 L221.4,358.2 L221.9,358.2 L222.4,358.2 L223.0,358.1 L223.5,358.1 L224.1,358.0 L224.6,358.0 L225.2,357.9 L225.7,357.9 L226.2,357.8 L226.8,357.7 L227.3,357.7 L227.8,357.6 L228.4,357.5 L228.9,357.4 L229.4,357.4 L230.0,357.3 L230.5,357.2 L231.0,357.1 L231.6,357.0 L232.1,356.9 L232.7,356.8 L233.2,356.6 L233.8,356.5 L234.3,356.4 L234.9,356.2 L235.4,356.1 L235.9,355.9 L236.4,355.7 L237.0,355.6 L237.5,355.4 L238.0,355.2 L238.5,355.0 L239.0,354.8 L239.5,354.6 L240.1,354.4 L240.6,354.2 L241.1,354.0 L241.7,353.8 L242.2,353.5 L242.7,353.2 L243.2,353.0 L243.7,352.7 L244.2,352.4 L244.7,352.1 L245.3,351.8 L245.8,351.5 L246.3,351.2 L246.8,350.9 L247.3,350.6 L247.8,350.2 L248.3,349.9 L248.8,349.5 L249.3,349.1 L249.8,348.8 L250.3,348.4 L250.8,347.9 L251.3,347.5 L251.9,347.1 L252.4,346.6 L252.9,346.1 L253.4,345.7 L253.9,345.2 L254.4,344.6 L254.9,344.1 L255.4,343.5 L255.9,342.8 L256.4,342.2 L256.9,341.5 L257.4,340.9 L257.9,340.3 L258.4,339.7 L258.9,339.1 L259.4,338.6 L259.9,338.0 L260.4,337.5 L260.9,337.0 L261.4,336.4 L261.9,335.9 L262.4,335.4 L262.9,335.0 L263.3,334.6 L263.8,334.2 L264.3,333.9 L264.7,333.6 L265.2,333.4 L265.7,333.2 L266.1,332.9 L266.7,332.7 L267.2,332.4 L267.7,332.1 L268.3,331.8 L268.8,331.4 L269.4,331.0 L269.9,330.4 L270.4,329.6 L270.9,328.7 L271.4,327.8 L271.9,326.7 L272.4,325.6 L272.9,324.5 L273.4,323.4 L273.9,322.2 L274.4,320.9 L274.9,319.6 L275.4,318.2 L275.9,316.8 L276.4,315.4 L276.9,313.8 L277.4,312.2 L277.9,310.6 L278.4,309.0 L278.9,307.6 L279.4,306.2 L279.9,304.8 L280.4,303.5 L280.9,302.3 L281.4,301.1 L281.9,300.1 L282.4,299.2 L282.9,298.3 L283.4,297.5 L283.9,296.7 L284.4,295.9 L284.9,295.1 L285.4,294.3 L285.9,293.5 L286.4,292.8 L286.9,292.0 L287.4,291.2 L287.9,290.3 L288.4,289.3 L288.9,288.1 L289.4,286.6 L289.9,284.9 L290.4,283.2 L290.9,281.5 L291.4,279.9 L291.9,278.3 L292.4,276.6 L292.9,275.2 L293.4,274.4 L293.9,273.9 L294.3,273.5 L294.7,273.3 L294.8,273.2 L295.0,273.2 L295.4,273.1 L295.7,273.1 L295.9,273.1 L296.0,273.1 L296.0,273.1 L296.1,273.1 L296.4,273.1 L296.8,273.2 L297.1,273.3 L297.4,273.4 L297.7,273.6 L298.2,273.9 L298.7,274.3 L299.2,274.7 L299.7,275.1 L300.1,275.5 L300.6,275.9 L301.1,276.4 L301.6,276.9 L302.1,277.5 L302.6,278.0 L303.1,278.7 L303.6,279.3 L304.1,280.0 L304.6,280.8 L305.1,281.5 L305.6,282.4 L306.1,283.2 L306.6,284.1 L307.1,285.0 L307.6,286.0 L308.1,287.0 L308.6,288.0 L309.1,289.1 L309.6,290.3 L310.1,291.5 L310.6,292.9 L311.1,294.3 L311.6,295.8 L312.1,297.4 L312.6,299.1 L313.1,300.9 L313.6,302.6 L314.1,304.1 L314.6,305.5 L315.1,306.8 L315.6,308.1 L316.1,309.4 L316.6,310.7 L317.1,312.0 L317.6,313.3 L318.1,314.6 L318.6,315.8 L319.1,317.1 L319.6,318.3 L320.1,319.4 L320.6,320.6 L321.1,321.7 L321.6,322.8 L322.1,323.9 L322.6,325.0 L323.1,326.1 L323.6,327.1 L324.1,328.2 L324.6,329.3 L325.1,330.3 L325.6,331.3 L326.1,332.3 L326.6,333.2 L327.1,334.1 L327.6,334.9 L328.1,335.7 L328.6,336.4 L329.1,337.2 L329.6,337.9 L330.1,338.5 L330.6,339.2 L331.1,339.8 L331.6,340.5 L332.1,341.1 L332.6,341.8 L333.1,342.4 L333.6,343.0 L334.1,343.6 L334.6,344.3 L335.1,344.8 L335.6,345.4 L336.1,346.0 L336.6,346.6 L337.1,347.1 L337.6,347.6 L338.1,348.2 L338.6,348.7 L339.1,349.1 L339.6,349.6 L340.1,350.1 L340.6,350.6 L341.1,351.0 L341.7,351.5 L342.2,351.9 L342.7,352.3 L343.2,352.7 L343.7,353.1 L344.2,353.5 L344.7,353.9 L345.2,354.2 L345.7,354.6 L346.2,354.9 L346.7,355.2 L347.2,355.6 L347.7,355.9 L348.2,356.2 L348.7,356.5 L349.2,356.9 L349.8,357.2 L350.3,357.5 L350.8,357.7 L351.3,358.0 L351.8,358.3 L352.4,358.5 L352.9,358.8 L353.4,359.0 L354.0,359.2 L354.6,359.4 L355.1,359.6 L355.6,359.7 L356.2,359.9 L356.7,360.0 L357.2,360.1 L357.8,360.3 L358.3,360.4 L358.8,360.5 L359.4,360.6 L359.9,360.7 L360.4,360.8 L361.0,360.9 L361.5,361.0 L362.0,361.1 L362.5,361.2 L363.1,361.3 L363.6,361.4 L364.1,361.5 L364.6,361.5 L365.2,361.6 L365.7,361.7 L366.2,361.8 L366.7,361.8 L367.2,361.9 L367.8,362.0 L368.3,362.0 L368.8,362.1 L369.3,362.1 L369.8,362.2 L370.3,362.2 L370.9,362.3 L371.4,362.3 L371.9,362.4 L372.4,362.4 L372.9,362.5 L373.4,362.5 L373.9,362.6 L374.4,362.6 L374.9,362.7 L375.4,362.7 L375.9,362.8 L376.4,362.8 L376.9,362.9 L377.5,362.9 L378.0,362.9 L378.5,363.0 L379.0,363.0 L379.5,363.1 L380.0,363.1 L380.5,363.1 L381.0,363.2 L381.5,363.2 L382.1,363.3 L382.6,363.3 L383.1,363.3 L383.6,363.4 L384.1,363.4 L384.6,363.4 L385.2,363.5 L385.7,363.5 L386.2,363.5 L386.7,363.5 L387.2,363.5 L387.8,363.6 L388.3,363.6 L388.8,363.6 L389.3,363.6 L389.8,363.6 L390.3,363.7 L390.8,363.7 L391.3,363.7 L391.8,363.7 L392.3,363.7 L392.8,363.7 L393.4,363.7 L393.9,363.7 L394.4,363.8 L394.9,363.8 L395.4,363.8 L396.0,363.8 L679.6,363.8 L679.6,362.6 L396.0,362.6 L395.6,362.6 L395.1,362.6 L394.6,362.6 L394.1,362.6 L393.6,362.6 L393.2,362.6 L392.7,362.6 L392.2,362.6 L391.7,362.5 L391.2,362.5 L390.7,362.5 L390.2,362.5 L389.7,362.5 L389.2,362.5 L388.7,362.5 L388.2,362.4 L387.8,362.4 L387.3,362.4 L386.8,362.4 L386.3,362.4 L385.8,362.3 L385.4,362.3 L384.9,362.3 L384.4,362.2 L383.9,362.2 L383.4,362.2 L382.9,362.2 L382.5,362.1 L382.0,362.1 L381.5,362.0 L381.0,362.0 L380.5,362.0 L380.0,361.9 L379.5,361.9 L379.0,361.8 L378.5,361.8 L378.1,361.8 L377.6,361.7 L377.1,361.7 L376.6,361.6 L376.1,361.6 L375.6,361.5 L375.1,361.5 L374.6,361.5 L374.1,361.4 L373.6,361.4 L373.1,361.3 L372.6,361.3 L372.1,361.2 L371.7,361.2 L371.2,361.1 L370.7,361.1 L370.2,361.0 L369.7,361.0 L369.2,360.9 L368.8,360.8 L368.3,360.8 L367.8,360.7 L367.3,360.7 L366.8,360.6 L366.4,360.5 L365.9,360.4 L365.4,360.4 L364.9,360.3 L364.5,360.2 L364.0,360.1 L363.5,360.1 L363.0,360.0 L362.6,359.9 L362.1,359.8 L361.6,359.7 L361.2,359.6 L360.7,359.5 L360.2,359.4 L359.8,359.3 L359.3,359.2 L358.8,359.0 L358.4,358.9 L357.9,358.8 L357.4,358.6 L357.0,358.5 L356.6,358.3 L356.1,358.1 L355.6,357.9 L355.2,357.7 L354.7,357.5 L354.2,357.2 L353.7,356.9 L353.2,356.7 L352.8,356.4 L352.3,356.1 L351.8,355.8 L351.3,355.4 L350.8,355.1 L350.3,354.8 L349.8,354.5 L349.3,354.1 L348.8,353.8 L348.3,353.4 L347.8,353.1 L347.3,352.7 L346.8,352.3 L346.3,351.9 L345.8,351.5 L345.3,351.1 L344.9,350.7 L344.4,350.2 L343.9,349.8 L343.4,349.3 L342.9,348.8 L342.4,348.3 L341.9,347.8 L341.4,347.3 L340.9,346.8 L340.4,346.3 L339.9,345.7 L339.4,345.2 L338.9,344.6 L338.4,344.0 L337.9,343.4 L337.4,342.8 L336.9,342.1 L336.4,341.5 L335.9,340.9 L335.4,340.2 L334.9,339.6 L334.4,338.9 L333.9,338.3 L333.4,337.6 L332.9,336.9 L332.4,336.2 L331.9,335.5 L331.4,334.7 L330.9,333.9 L330.4,333.0 L329.9,332.1 L329.4,331.2 L328.9,330.1 L328.4,329.1 L327.9,328.1 L327.4,327.0 L326.9,325.9 L326.4,324.9 L325.9,323.8 L325.4,322.7 L324.9,321.6 L324.4,320.4 L323.9,319.3 L323.4,318.1 L322.9,316.9 L322.4,315.7 L321.9,314.5 L321.4,313.2 L320.9,311.9 L320.4,310.6 L319.9,309.3 L319.4,308.0 L318.9,306.7 L318.4,305.4 L317.9,304.0 L317.4,302.5 L316.9,300.8 L316.4,299.0 L315.9,297.3 L315.4,295.7 L314.9,294.2 L314.4,292.8 L313.9,291.4 L313.4,290.1 L312.9,289.0 L312.4,287.8 L311.9,286.8 L311.4,285.8 L310.9,284.8 L310.4,283.9 L309.9,283.0 L309.4,282.2 L308.9,281.3 L308.4,280.5 L307.9,279.8 L307.4,279.1 L306.9,278.4 L306.4,277.8 L305.9,277.2 L305.4,276.6 L304.9,276.1 L304.4,275.6 L303.9,275.1 L303.3,274.7 L302.8,274.3 L302.3,273.9 L301.8,273.5 L301.3,273.1 L300.6,272.8 L299.9,272.5 L299.2,272.3 L298.6,272.2 L297.9,272.1 L297.0,272.0 L296.0,271.9 L295.1,272.0 L294.3,272.0 L293.6,272.1 L293.0,272.2 L292.2,272.4 L291.3,272.7 L290.7,273.1 L290.1,273.6 L289.6,274.2 L289.1,275.1 L288.6,276.5 L288.1,278.2 L287.6,279.8 L287.1,281.4 L286.6,283.1 L286.1,284.8 L285.6,286.5 L285.1,288.0 L284.6,289.1 L284.1,290.1 L283.6,291.0 L283.1,291.8 L282.6,292.6 L282.1,293.3 L281.6,294.1 L281.1,294.9 L280.6,295.7 L280.1,296.5 L279.6,297.3 L279.1,298.1 L278.6,299.0 L278.1,299.9 L277.6,301.0 L277.1,302.1 L276.6,303.4 L276.1,304.7 L275.6,306.1 L275.1,307.4 L274.6,308.9 L274.1,310.5 L273.6,312.1 L273.1,313.7 L272.6,315.3 L272.1,316.7 L271.6,318.1 L271.1,319.5 L270.6,320.8 L270.1,322.1 L269.6,323.3 L269.1,324.4 L268.6,325.5 L268.1,326.5 L267.6,327.6 L267.1,328.6 L266.6,329.4 L266.1,330.1 L265.6,330.6 L265.2,331.0 L264.7,331.4 L264.3,331.6 L263.8,331.9 L263.3,332.1 L262.9,332.3 L262.3,332.6 L261.8,332.8 L261.3,333.1 L260.7,333.4 L260.2,333.8 L259.7,334.2 L259.1,334.6 L258.6,335.1 L258.1,335.6 L257.6,336.1 L257.1,336.7 L256.6,337.2 L256.1,337.8 L255.6,338.3 L255.1,338.9 L254.6,339.4 L254.1,340.0 L253.6,340.7 L253.1,341.3 L252.6,341.9 L252.1,342.6 L251.6,343.2 L251.1,343.8 L250.6,344.3 L250.1,344.8 L249.6,345.3 L249.1,345.8 L248.6,346.3 L248.1,346.7 L247.7,347.1 L247.2,347.6 L246.7,348.0 L246.2,348.4 L245.7,348.7 L245.2,349.1 L244.7,349.4 L244.2,349.8 L243.7,350.1 L243.2,350.4 L242.7,350.7 L242.2,351.0 L241.7,351.3 L241.3,351.6 L240.8,351.9 L240.3,352.2 L239.8,352.4 L239.3,352.7 L238.8,352.9 L238.3,353.2 L237.9,353.4 L237.4,353.6 L236.9,353.8 L236.5,354.0 L236.0,354.1 L235.5,354.3 L235.0,354.5 L234.5,354.6 L234.0,354.8 L233.6,355.0 L233.1,355.1 L232.6,355.2 L232.1,355.4 L231.7,355.5 L231.2,355.6 L230.8,355.7 L230.3,355.8 L229.9,355.9 L229.4,356.0 L229.0,356.1 L228.5,356.2 L228.0,356.3 L227.6,356.3 L227.1,356.4 L226.6,356.5 L226.2,356.6 L225.7,356.6 L225.2,356.7 L224.8,356.7 L224.3,356.8 L223.8,356.9 L223.4,356.9 L222.9,356.9 L222.5,357.0 L222.0,357.0 L221.6,357.0 L221.1,357.1 L220.6,357.1 L220.1,357.1 L219.6,357.2 L219.1,357.2 L218.7,357.2 L218.2,357.2 L217.7,357.3 L217.2,357.3 L216.8,357.3 L216.3,357.3 L215.9,357.3 L215.4,357.3 L215.0,357.3 L214.5,357.3 L214.1,357.3 L213.6,357.3 L213.2,357.3 L212.7,357.3 L212.3,357.3 L211.8,357.3 L211.3,357.2 L210.9,357.2 L210.4,357.2 L209.9,357.2 L209.5,357.1 L209.0,357.1 L208.8,357.1 L208.8,357.1 L208.6,357.0 L208.2,356.8 L207.7,356.6 L207.3,356.3 L206.8,356.0 L206.3,355.7 L205.7,355.4 L205.1,355.1 L204.5,354.8 L203.5,354.6 L202.3,354.4 L201.5,354.4 L201.0,354.4 L200.5,354.4 L200.0,354.4 L199.5,354.4 L199.0,354.4 L198.5,354.4 L198.0,354.4 L197.5,354.4 L197.0,354.4 L196.5,354.4 L196.0,354.4 L195.5,354.4 L195.0,354.4 L194.5,354.4 L194.1,354.4 L194.0,354.4 L193.9,354.4 L193.7,354.4 L193.3,354.3 L192.9,354.2 L192.4,354.0 L191.9,353.9 L191.4,353.7 L190.9,353.5 L190.3,353.4 L189.6,353.2 L188.9,353.1 L188.4,353.0 L187.8,352.9 L187.3,352.9 L186.8,352.8 L186.3,352.7 L185.7,352.7 L185.1,352.6 L184.6,352.5 L183.9,352.5 L183.3,352.5 L182.7,352.4 L182.0,352.4 L181.3,352.4 L180.7,352.5 L180.1,352.5 L179.4,352.5 L178.9,352.6 L178.3,352.7 L177.7,352.7 L177.2,352.8 L176.7,352.9 L176.2,352.9 L175.6,353.0 L175.1,353.1 L174.5,353.2 L173.9,353.3 L173.3,353.4 L172.8,353.5 L172.2,353.7 L171.7,353.8 L171.2,354.0 L170.7,354.1 L170.2,354.2 L169.7,354.3 L169.3,354.4 L168.8,354.5 L168.4,354.6 L167.9,354.7 L167.4,354.9 L166.9,355.0 L166.4,355.1 L165.9,355.1 L165.4,355.2 L164.9,355.3 L164.4,355.4 L163.9,355.5 L163.4,355.6 L162.9,355.7 L162.4,355.8 L161.9,355.9 L161.4,356.0 L160.9,356.1 L160.4,356.2 L159.9,356.3 L159.4,356.4 L158.9,356.5 L158.4,356.6 L157.9,356.7 L157.4,356.8 L156.9,357.0 L156.4,357.1 L155.9,357.2 L155.4,357.3 L154.9,357.4 L154.4,357.5 L153.9,357.6 L153.3,357.7 L152.8,357.8 L152.3,357.9 L151.8,358.0 L151.3,358.1 L150.8,358.2 L150.3,358.4 L149.8,358.5 L149.3,358.6 L148.8,358.7 L148.3,358.8 L147.8,358.9 L147.3,359.0 L146.8,359.2 L146.2,359.3 L145.7,359.4 L145.2,359.6 L144.6,359.7 L144.1,359.9 L143.6,360.0 L143.1,360.2 L142.6,360.3 L142.2,360.4 L141.7,360.6 L141.2,360.7 L140.8,360.8 L140.4,360.9 L140.0,361.0 L139.6,361.0 L139.2,361.1 L138.8,361.1 L138.3,361.2 L137.8,361.2 L137.3,361.3 L136.8,361.3 L136.3,361.4 L135.9,361.5 L135.4,361.5 L134.9,361.5 L134.4,361.6 L133.9,361.6 L133.4,361.7 L132.9,361.7 L132.5,361.8 L132.0,361.8 L131.5,361.9 L131.0,361.9 L130.5,361.9 L130.0,362.0 L129.5,362.0 L129.1,362.0 L128.6,362.1 L128.1,362.1 L127.6,362.1 L127.1,362.2 L126.6,362.2 L126.2,362.2 L125.7,362.2 L125.2,362.3 L124.7,362.3 L124.2,362.3 L123.7,362.3 L123.3,362.3 L122.8,362.4 L122.3,362.4 L121.8,362.4 L121.3,362.4 L120.8,362.4 L120.4,362.4 L119.9,362.4 L119.4,362.4 L118.9,362.4 L118.4,362.5 L117.9,362.5 L117.4,362.5 L116.9,362.5 L116.4,362.5 L115.9,362.5 L115.4,362.5 L114.9,362.5 L114.4,362.5 L113.9,362.5 L113.4,362.5 L112.9,362.5 L112.4,362.5 L111.9,362.6 L111.4,362.6 L110.9,362.6 L110.4,362.6 L109.9,362.6 L109.4,362.6 L108.9,362.6 L108.4,362.6 L107.9,362.6 L107.4,362.6 L106.9,362.6 L106.5,362.6 L106.0,362.6 L105.5,362.6 L105.0,362.6 L104.5,362.6 L104.0,362.6 L103.5,362.6 L103.0,362.6 L102.5,362.6 L102.0,362.6 L101.5,362.6 L101.0,362.6 L100.5,362.6 L100.0,362.6 L52.4,362.6Z" fill="url(#g_orange)"/>
<path d="M53.2,361 V3.4 H678.2 V361" fill="none" stroke="#8c8c8c" stroke-width="1"/>
<path d="M53.6,3 V361" fill="none" stroke="#1a1a1a" stroke-width="1.3"/>
<path d="M677.8,3 V364" fill="none" stroke="#2a2a2a" stroke-width="1.2"/>
<path d="M53,360.5 H678.5" fill="none" stroke="#555" stroke-width="1"/>
<path d="M101.0,360.3 v2.2 M128.4,360.3 v2.2 M147.9,360.3 v2.2 M163.0,360.3 v2.2 M175.4,360.3 v2.2 M185.8,360.3 v2.2 M194.9,360.3 v2.2 M202.9,360.3 v2.2 M257.0,360.3 v2.2 M284.4,360.3 v2.2 M303.9,360.3 v2.2 M319.0,360.3 v2.2 M331.4,360.3 v2.2 M341.8,360.3 v2.2 M350.9,360.3 v2.2 M358.9,360.3 v2.2 M413.0,360.3 v2.2 M440.4,360.3 v2.2 M459.9,360.3 v2.2 M475.0,360.3 v2.2 M487.4,360.3 v2.2 M497.8,360.3 v2.2 M506.9,360.3 v2.2 M514.9,360.3 v2.2 M569.0,360.3 v2.2 M596.4,360.3 v2.2 M615.9,360.3 v2.2 M631.0,360.3 v2.2 M643.4,360.3 v2.2 M653.8,360.3 v2.2 M662.9,360.3 v2.2 M670.9,360.3 v2.2" stroke="#444" stroke-width="0.9" fill="none"/>
<path d="M54.0,360 v4.4 M210.0,360 v4.4 M366.0,360 v4.4 M522.0,360 v4.4" stroke="#333" stroke-width="1" fill="none"/>
<line x1="296.5" x2="296.5" y1="262.6" y2="364.6" stroke="rgb(255,140,40)" stroke-width="2.3" stroke-linecap="round"/>
<line x1="300.85" x2="300.85" y1="23.6" y2="364.6" stroke="rgb(16,126,240)" stroke-width="2.5" stroke-linecap="round"/>
<line x1="315.35" x2="315.35" y1="193.8" y2="364.6" stroke="rgb(243,0,0)" stroke-width="2.5" stroke-linecap="round"/>
<text x="57.2" y="387.1" font-size="17.6" fill="#111">10</text>
<text x="76.6" y="374.6" font-size="17.8" fill="#111">0</text>
<text x="202.3" y="387.1" font-size="17.6" fill="#111">10</text>
<text x="221.8" y="374.6" font-size="17.8" fill="#111">1</text>
<text x="358.4" y="387.1" font-size="17.6" fill="#111">10</text>
<text x="377.8" y="374.6" font-size="17.8" fill="#111">2</text>
<text x="514.0" y="387.1" font-size="17.6" fill="#111">10</text>
<text x="533.8" y="374.6" font-size="17.8" fill="#111">3</text>
<text x="648.6" y="387.1" font-size="17.6" fill="#111">10</text>
<text x="667.6" y="374.6" font-size="17.8" fill="#111">4</text>
<text x="119.5" y="411" font-size="18.24" font-weight="bold" fill="#000">Signal intensity detected on the FL1-H channel (515-545nm)</text>
<text transform="translate(40,216.2) rotate(-90)" text-anchor="middle" font-size="18" font-weight="bold" fill="#000">Cell number</text>
<text x="17.3" y="34.4" font-size="26" font-weight="bold" fill="#000">A</text>
<defs><linearGradient id="hg" x1="0" y1="0" x2="0" y2="1"><stop offset="0" stop-color="#e2e2e2"/><stop offset="0.45" stop-color="#e9e9e9"/><stop offset="0.88" stop-color="#dedede"/><stop offset="0.92" stop-color="#c0c0c0"/><stop offset="1" stop-color="#bcbcbc"/></linearGradient></defs>
<rect x="425.6" y="10.4" width="244" height="113" fill="#fff"/>
<rect x="448.6" y="10.4" width="221" height="24.2" fill="url(#hg)"/>
<path d="M425.6,34.6 H669.6 M425.6,56.7 H669.6 M425.6,78.8 H669.6 M425.6,101.0 H669.6" stroke="#7a7a7a" stroke-width="1" fill="none"/>
<rect x="425.6" y="10.4" width="244" height="113" fill="none" stroke="#808080" stroke-width="1"/>
<path d="M448.6,10.4 V123.4 M543.4,10.4 V123.4" stroke="#4a4a4a" stroke-width="1" fill="none"/>
<path d="M425.6,10.4 V123.4" stroke="#666" stroke-width="1" fill="none"/>
<text x="452.2" y="29.6" font-size="19.3" font-weight="bold" fill="#000">Grouping</text>
<text x="546.7" y="29.6" font-size="19.3" font-weight="bold" fill="#000">Mean : FL1-H</text>
<rect x="430.5" y="38.7" width="13.2" height="12.6" fill="rgb(153,204,255)" stroke="rgb(16,126,240)" stroke-width="1.4"/>
<text x="450.2" y="51.2" font-size="17.45" fill="#000">control</text>
<text x="667.2" y="51.2" font-size="17.5" text-anchor="end" fill="#000">38.8</text>
<rect x="430.5" y="61.0" width="13.2" height="12.6" fill="rgb(153,255,153)" stroke="rgb(0,235,0)" stroke-width="1.4"/>
<text x="450.2" y="73.5" font-size="17.45" fill="#000">Fer-1</text>
<text x="667.2" y="73.5" font-size="17.5" text-anchor="end" fill="#000">37.2</text>
<rect x="430.5" y="83.4" width="13.2" height="12.6" fill="rgb(255,153,153)" stroke="rgb(235,10,10)" stroke-width="1.4"/>
<text x="450.2" y="95.9" font-size="17.45" fill="#000">EMT</text>
<text x="667.2" y="95.9" font-size="17.5" text-anchor="end" fill="#000">47.0</text>
<rect x="430.5" y="105.7" width="13.2" height="12.6" fill="rgb(255,204,153)" stroke="rgb(255,128,0)" stroke-width="1.4"/>
<text x="450.2" y="118.2" font-size="17.45" fill="#000">EMT+Fer-1</text>
<text x="667.2" y="118.2" font-size="17.5" text-anchor="end" fill="#000">35.3</text>
</g>
<g id="panelB">
<text x="57" y="497.6" font-size="23.5" font-weight="bold">B</text>
<rect x="85.0" y="624.2" width="37.2" height="162.1" fill="#000"/>
<rect x="141.0" y="630.4" width="37.6" height="155.9" fill="#000"/>
<rect x="197.2" y="594.4" width="37.6" height="191.9" fill="#000"/>
<rect x="253.4" y="617.6" width="37.6" height="168.7" fill="#000"/>
<path d="M160.0,630.4 V614.0 M150.8,614.0 H169.2 M216.0,594.4 V581.8 M206.8,581.8 H225.2 M272.3,617.6 V592.2 M263.1,592.2 H281.5" stroke="#000" stroke-width="1.3" fill="none"/>
<path d="M66,542.4 V786.3 M59.8,786.3 H310.6" stroke="#000" stroke-width="1.9" fill="none"/>
<path d="M59.8,705.2 H66 M59.8,624.1 H66 M59.8,543.0 H66" stroke="#000" stroke-width="1.9" fill="none"/>
<path d="M62.4,778.2 H66 M62.4,770.1 H66 M62.4,762.0 H66 M62.4,753.9 H66 M62.4,745.8 H66 M62.4,737.6 H66 M62.4,729.5 H66 M62.4,721.4 H66 M62.4,713.3 H66 M62.4,697.1 H66 M62.4,689.0 H66 M62.4,680.9 H66 M62.4,672.8 H66 M62.4,664.6 H66 M62.4,656.5 H66 M62.4,648.4 H66 M62.4,640.3 H66 M62.4,632.2 H66 M62.4,616.0 H66 M62.4,607.9 H66 M62.4,599.8 H66 M62.4,591.7 H66 M62.4,583.5 H66 M62.4,575.4 H66 M62.4,567.3 H66 M62.4,559.2 H66 M62.4,551.1 H66" stroke="#000" stroke-width="1.8" fill="none"/>
<path d="M103.5,786.3 V793 M160.0,786.3 V793 M216.0,786.3 V793 M272.3,786.3 V793" stroke="#000" stroke-width="1.8" fill="none"/>
<text x="57.2" y="547.8" font-size="13.3" font-weight="bold" text-anchor="end">1.5</text>
<text x="57.2" y="629.0" font-size="13.3" font-weight="bold" text-anchor="end">1.0</text>
<text x="57.2" y="710.1" font-size="13.3" font-weight="bold" text-anchor="end">0.5</text>
<text x="57.2" y="791.2" font-size="13.3" font-weight="bold" text-anchor="end">0.0</text>
<text x="103.4" y="807.4" font-size="14.1" font-weight="bold" text-anchor="middle">control</text>
<text x="159.6" y="807.4" font-size="14.1" font-weight="bold" text-anchor="middle">Fer-1</text>
<text x="215.9" y="807.4" font-size="14.1" font-weight="bold" text-anchor="middle">EMT</text>
<text x="272.2" y="807.4" font-size="14.1" font-weight="bold" text-anchor="middle">EMT</text>
<text x="271.6" y="822.6" font-size="14.1" font-weight="bold" text-anchor="middle">+Fer-1</text>
<text transform="translate(15.5,663.3) rotate(-90)" text-anchor="middle" font-size="13.95" font-weight="bold">relative mean fluorescence intensity</text>
<text transform="translate(31.6,663.2) rotate(-90)" text-anchor="middle" font-size="13.95" font-weight="bold">at FL1-H channel</text>
<path d="M103.4,522.6 V466.0 H272.4 V490.0 M159.6,507.0 V499.0 H272.4 V555.4 M103.4,555.4 V532.0 H216.0 V555.4 M103.4,615.0 V564.6 H156.8 V605.6 M162.4,605.6 V564.6 H213.4 V573.0 M218.6,573.0 V564.6 H272.4 V583.6" stroke="#000" stroke-width="1.3" fill="none"/>
<text x="187.8" y="458.6" font-size="14.6" text-anchor="middle" fill="#111">ns</text>
<text x="215.8" y="491.6" font-size="14.6" text-anchor="middle" fill="#111">ns</text>
<text x="130.0" y="556.6" font-size="14.6" text-anchor="middle" fill="#111">ns</text>
<text x="159.7" y="529.4" font-size="16.8" font-weight="bold" font-family="'DejaVu Sans Mono', monospace" letter-spacing="0.4" stroke="#000" stroke-width="0.6" text-anchor="middle" fill="#000">**</text>
<text x="187.7" y="562.0" font-size="16.8" font-weight="bold" font-family="'DejaVu Sans Mono', monospace" letter-spacing="0.4" stroke="#000" stroke-width="0.6" text-anchor="middle" fill="#000">***</text>
<text x="245.4" y="562.0" font-size="16.8" font-weight="bold" font-family="'DejaVu Sans Mono', monospace" letter-spacing="0.4" stroke="#000" stroke-width="0.6" text-anchor="middle" fill="#000">*</text>
</g>
<g id="panelC">
<text x="390.9" y="498.2" font-size="24.3" font-weight="bold">C</text>
<rect x="424.4" y="658.0" width="37.4" height="128.0" fill="#000"/>
<rect x="481.0" y="663.0" width="38.0" height="123.0" fill="#000"/>
<rect x="538.0" y="617.4" width="37.8" height="168.6" fill="#000"/>
<rect x="594.8" y="650.4" width="38.2" height="135.6" fill="#000"/>
<path d="M443.0,658.0 V647.6 M433.8,647.6 H452.2 M500.0,663.0 V633.8 M490.8,633.8 H509.2 M556.8,617.4 V597.2 M547.6,597.2 H566.0 M613.6,650.4 V616.0 M604.4,616.0 H622.8" stroke="#000" stroke-width="1.3" fill="none"/>
<path d="M405,537.8 V786 M398.4,786 H653" stroke="#000" stroke-width="1.9" fill="none"/>
<path d="M398.4,538.8 H405 M398.4,600.6 H405 M398.4,662.4 H405 M398.4,724.2 H405" stroke="#000" stroke-width="1.9" fill="none"/>
<path d="M443.0,786 V792.6 M500.0,786 V792.6 M556.8,786 V792.6 M613.6,786 V792.6" stroke="#000" stroke-width="1.8" fill="none"/>
<text x="396.4" y="544.0" font-size="13.3" font-weight="bold" text-anchor="end">80</text>
<text x="396.4" y="605.6" font-size="13.3" font-weight="bold" text-anchor="end">60</text>
<text x="396.4" y="667.3" font-size="13.3" font-weight="bold" text-anchor="end">40</text>
<text x="396.4" y="729.2" font-size="13.3" font-weight="bold" text-anchor="end">20</text>
<text x="396.4" y="790.8" font-size="13.3" font-weight="bold" text-anchor="end">0</text>
<text x="442.6" y="806.6" font-size="14.1" font-weight="bold" text-anchor="middle">control</text>
<text x="499.4" y="806.6" font-size="14.1" font-weight="bold" text-anchor="middle">Fer-1</text>
<text x="556.4" y="806.6" font-size="14.1" font-weight="bold" text-anchor="middle">EMT</text>
<text x="613.6" y="806.6" font-size="14.1" font-weight="bold" text-anchor="middle">EMT</text>
<text x="613.2" y="822.4" font-size="14.1" font-weight="bold" text-anchor="middle">+Fer-1</text>
<text transform="translate(358.2,660.9) rotate(-90)" text-anchor="middle" font-size="14" font-weight="bold">Above average intensity</text>
<text transform="translate(374.2,660.6) rotate(-90)" text-anchor="middle" font-size="14" font-weight="bold">of control group %</text>
<path d="M442.6,537.4 V480.0 H613.6 V504.0 M499.4,521.4 V513.2 H613.6 V570.6 M442.6,570.6 V546.6 H556.6 V570.6 M442.6,638.6 V579.4 H497.0 V624.4 M502.2,624.4 V579.4 H553.8 V588.0 M559.2,588.0 V579.4 H613.8 V607.0" stroke="#000" stroke-width="1.3" fill="none"/>
<text x="528.2" y="471.6" font-size="14.6" text-anchor="middle" fill="#111">ns</text>
<text x="556.8" y="505.0" font-size="14.6" text-anchor="middle" fill="#111">ns</text>
<text x="469.7" y="571.6" font-size="14.6" text-anchor="middle" fill="#111">ns</text>
<text x="499.7" y="543.2" font-size="16.8" font-weight="bold" font-family="'DejaVu Sans Mono', monospace" letter-spacing="0.4" stroke="#000" stroke-width="0.6" text-anchor="middle" fill="#000">**</text>
<text x="528.0" y="576.8" font-size="16.8" font-weight="bold" font-family="'DejaVu Sans Mono', monospace" letter-spacing="0.4" stroke="#000" stroke-width="0.6" text-anchor="middle" fill="#000">**</text>
<text x="586.7" y="576.8" font-size="16.8" font-weight="bold" font-family="'DejaVu Sans Mono', monospace" letter-spacing="0.4" stroke="#000" stroke-width="0.6" text-anchor="middle" fill="#000">*</text>
</g>
</svg>
</body></html>
